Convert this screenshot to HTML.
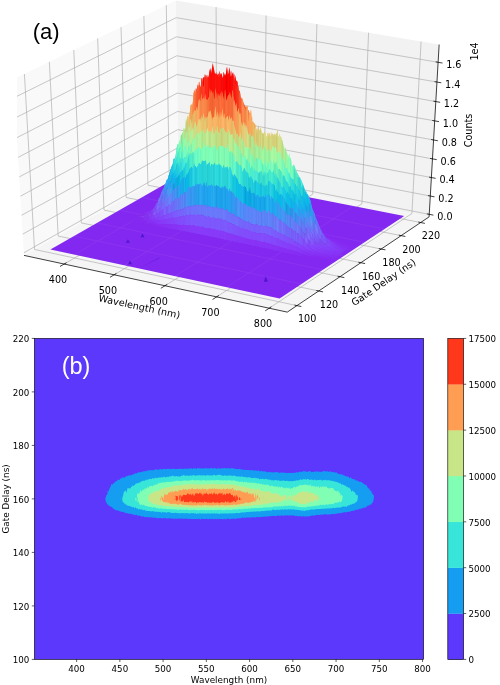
<!DOCTYPE html>
<html><head><meta charset="utf-8"><title>figure</title><style>html,body{margin:0;padding:0;background:#fff}svg{display:block}</style></head><body>
<svg width="500" height="685" viewBox="0 0 500 685" font-family='"DejaVu Sans","Liberation Sans",sans-serif'>
<rect width="500" height="685" fill="#fff"/>
<clipPath id="ca"><rect x="16.9" y="0" width="490" height="335"/></clipPath>
<g clip-path="url(#ca)">
<polygon points="24,255.4 178.4,167.9 175.9,0.4 13.3,79.4" fill="#f9f9f9"/>
<polygon points="178.4,167.9 429.1,216.9 439.2,44.5 175.9,0.4" fill="#f2f2f2"/>
<polygon points="24,255.4 287.3,312.1 429.1,216.9 178.4,167.9" fill="#f5f5f5"/>
<g stroke="#aaa" stroke-width="0.65" fill="none">
<polyline points="64.18,264.05 216.73,175.39 216.1,7.15"/>
<polyline points="114.13,274.81 264.38,184.7 266.08,15.53"/>
<polyline points="164.93,285.75 312.78,194.16 316.89,24.05"/>
<polyline points="216.61,296.89 361.95,203.76 368.55,32.71"/>
<polyline points="269.18,308.21 411.91,213.53 421.08,41.52"/>
<polyline points="296.95,305.61 34.53,249.45 24.41,73.99"/>
<polyline points="318.71,290.99 58.17,236.05 49.37,61.87"/>
<polyline points="340,276.7 81.32,222.93 73.79,50.01"/>
<polyline points="360.83,262.72 103.98,210.09 97.67,38.41"/>
<polyline points="381.21,249.03 126.17,197.51 121.03,27.07"/>
<polyline points="401.15,235.64 147.91,185.18 143.9,15.97"/>
<polyline points="420.68,222.53 169.21,173.11 166.27,5.1"/>
<polyline points="23.87,252.79 178.36,165.41 429.24,214.33"/>
<polyline points="22.73,234.14 178.09,147.61 430.31,196.04"/>
<polyline points="21.58,215.28 177.83,129.62 431.39,177.55"/>
<polyline points="20.42,196.2 177.56,111.44 432.48,158.86"/>
<polyline points="19.25,176.92 177.29,93.07 433.58,139.97"/>
<polyline points="18.06,157.41 177.01,74.51 434.7,120.88"/>
<polyline points="16.86,137.68 176.73,55.76 435.82,101.57"/>
<polyline points="15.64,117.73 176.45,36.81 436.96,82.05"/>
<polyline points="14.41,97.55 176.17,17.65 438.11,62.31"/>
</g>
<g stroke="#000" stroke-width="0.75" fill="none">
<polyline points="24.03,255.4 287.27,312.11 429.09,216.88 439.15,44.55"/>
<polyline points="66.54,262.68 59.97,266.49"/>
<polyline points="116.45,273.42 109.98,277.3"/>
<polyline points="167.22,284.34 160.85,288.28"/>
<polyline points="218.86,295.44 212.59,299.46"/>
<polyline points="271.39,306.74 265.23,310.83"/>
<polyline points="294.48,305.08 301.33,306.55"/>
<polyline points="316.27,290.48 323.07,291.91"/>
<polyline points="337.57,276.19 344.33,277.6"/>
<polyline points="358.42,262.22 365.12,263.59"/>
<polyline points="378.81,248.55 385.46,249.89"/>
<polyline points="398.78,235.17 405.38,236.48"/>
<polyline points="418.32,222.07 424.87,223.36"/>
<polyline points="426.89,213.87 433.42,215.14"/>
<polyline points="427.94,195.58 434.51,196.84"/>
<polyline points="429.01,177.1 435.62,178.35"/>
<polyline points="430.09,158.42 436.73,159.65"/>
<polyline points="431.18,139.53 437.86,140.76"/>
<polyline points="432.28,120.44 439,121.65"/>
<polyline points="433.39,101.14 440.15,102.33"/>
<polyline points="434.52,81.63 441.31,82.81"/>
<polyline points="435.66,61.89 442.49,63.06"/>
</g>
<g text-anchor="middle" fill="#000">
<text x="58" y="282.8" font-size="9.65">400</text>
<text x="107.9" y="293.5" font-size="9.65">500</text>
<text x="158.7" y="304.5" font-size="9.65">600</text>
<text x="210.4" y="315.6" font-size="9.65">700</text>
<text x="263" y="326.9" font-size="9.65">800</text>
<text x="307.2" y="322.4" font-size="9.65">100</text>
<text x="329" y="307.8" font-size="9.65">120</text>
<text x="350.3" y="293.5" font-size="9.65">140</text>
<text x="371.1" y="279.5" font-size="9.65">160</text>
<text x="391.5" y="265.9" font-size="9.65">180</text>
<text x="411.5" y="252.5" font-size="9.65">200</text>
<text x="431" y="239.4" font-size="9.65">220</text>
<text x="444.9" y="220" font-size="9.65">0.0</text>
<text x="446" y="201.8" font-size="9.65">0.2</text>
<text x="447.1" y="183.3" font-size="9.65">0.4</text>
<text x="448.2" y="164.6" font-size="9.65">0.6</text>
<text x="449.3" y="145.7" font-size="9.65">0.8</text>
<text x="450.4" y="126.6" font-size="9.65">1.0</text>
<text x="451.5" y="107.3" font-size="9.65">1.2</text>
<text x="452.7" y="87.8" font-size="9.65">1.4</text>
<text x="453.8" y="68" font-size="9.65">1.6</text>
<text transform="translate(139.5 306.4) rotate(12.2)" y="3.5" font-size="9.65">Wavelength (nm)</text>
<text transform="translate(383.4 282.2) rotate(-34.3)" y="3.5" font-size="9.65">Gate Delay (ns)</text>
<text transform="translate(468.3 130.5) rotate(-90)" y="3.5" font-size="9.65">Counts</text>
<text transform="translate(474.3 51.5) rotate(-90)" y="3.5" font-size="9.65">1e4</text>
</g>
<polygon points="50.4,249.5 279.6,298.5 404.2,216 184.6,172.9" fill="#8328f0"/>
<g stroke="#fff" stroke-width="0.7" opacity="0.07" fill="none">
<polyline points="74.41,254.66 207.64,177.44"/>
<polyline points="124.26,265.3 255.47,186.82"/>
<polyline points="174.95,276.12 304.06,196.34"/>
<polyline points="226.51,287.13 353.44,206.02"/>
<polyline points="73.94,236.08 301.52,283.95"/>
<polyline points="97,222.92 322.96,269.76"/>
<polyline points="119.58,210.03 343.94,255.88"/>
<polyline points="141.69,197.4 364.46,242.29"/>
<polyline points="163.35,185.04 384.55,228.99"/>
</g>
<g fill="#5216cc">
<path d="M127.9 239.2l-2 3.6l4 0z"/>
<path d="M142.5 233.6l-2 3.6l4 0z"/>
<path d="M130 260.6l-2 3.6l4 0z"/>
<path d="M265.8 276.3l-2.1 5.4l4.2 0z"/>
<path d="M140.6 267.4l18.6-10 .2 .9z" opacity="0.6"/>
</g>
<defs><linearGradient id="s31" gradientUnits="userSpaceOnUse" x1="1618" x2="3599" y1="0" y2="0"><stop offset="0" stop-color="#8328f0"/><stop offset=".064" stop-color="#8328f0"/><stop offset=".128" stop-color="#8529f2"/><stop offset=".196" stop-color="#862cf3"/><stop offset=".261" stop-color="#8630f5"/><stop offset=".326" stop-color="#8730f5"/><stop offset=".392" stop-color="#8633f6"/><stop offset=".457" stop-color="#8730f5"/><stop offset=".527" stop-color="#8630f5"/><stop offset=".593" stop-color="#872df4"/><stop offset=".66" stop-color="#8630f4"/><stop offset=".726" stop-color="#862df3"/><stop offset=".793" stop-color="#852cf3"/><stop offset=".865" stop-color="#8428f1"/><stop offset=".932" stop-color="#8428f0"/><stop offset="1" stop-color="#8328f0"/></linearGradient><linearGradient id="s30" gradientUnits="userSpaceOnUse" x1="1607" x2="3589" y1="0" y2="0"><stop offset="0" stop-color="#8328f0"/><stop offset=".064" stop-color="#8428f0"/><stop offset=".128" stop-color="#8629f2"/><stop offset=".196" stop-color="#8630f5"/><stop offset=".261" stop-color="#8733f6"/><stop offset=".326" stop-color="#8736f7"/><stop offset=".392" stop-color="#8736f7"/><stop offset=".457" stop-color="#8636f7"/><stop offset=".527" stop-color="#8733f6"/><stop offset=".593" stop-color="#8633f6"/><stop offset=".66" stop-color="#8633f6"/><stop offset=".726" stop-color="#8630f5"/><stop offset=".793" stop-color="#862cf3"/><stop offset=".865" stop-color="#8529f1"/><stop offset=".932" stop-color="#8328f0"/><stop offset="1" stop-color="#8328f0"/></linearGradient><linearGradient id="s29" gradientUnits="userSpaceOnUse" x1="1596" x2="3579" y1="0" y2="0"><stop offset="0" stop-color="#8328f0"/><stop offset=".064" stop-color="#8429f1"/><stop offset=".128" stop-color="#862cf3"/><stop offset=".196" stop-color="#8733f6"/><stop offset=".261" stop-color="#873af9"/><stop offset=".326" stop-color="#873df9"/><stop offset=".392" stop-color="#873dfa"/><stop offset=".457" stop-color="#873df9"/><stop offset=".527" stop-color="#8639f8"/><stop offset=".593" stop-color="#8736f7"/><stop offset=".66" stop-color="#8736f7"/><stop offset=".726" stop-color="#8733f6"/><stop offset=".793" stop-color="#8730f5"/><stop offset=".865" stop-color="#8629f2"/><stop offset=".932" stop-color="#8428f1"/><stop offset="1" stop-color="#8328f0"/></linearGradient><linearGradient id="s28" gradientUnits="userSpaceOnUse" x1="1585" x2="3568" y1="0" y2="0"><stop offset="0" stop-color="#8328f0"/><stop offset=".064" stop-color="#8529f1"/><stop offset=".128" stop-color="#8630f5"/><stop offset=".196" stop-color="#8639f8"/><stop offset=".261" stop-color="#8640fa"/><stop offset=".326" stop-color="#8445fb"/><stop offset=".392" stop-color="#8445fb"/><stop offset=".457" stop-color="#8545fb"/><stop offset=".527" stop-color="#8640fa"/><stop offset=".593" stop-color="#863df9"/><stop offset=".66" stop-color="#873df9"/><stop offset=".727" stop-color="#8639f8"/><stop offset=".794" stop-color="#8834f7"/><stop offset=".865" stop-color="#862cf3"/><stop offset=".932" stop-color="#8429f1"/><stop offset="1" stop-color="#8428f0"/></linearGradient><linearGradient id="s27" gradientUnits="userSpaceOnUse" x1="1574" x2="3558" y1="0" y2="0"><stop offset="0" stop-color="#8328f0"/><stop offset=".064" stop-color="#8629f2"/><stop offset=".128" stop-color="#8733f6"/><stop offset=".196" stop-color="#8640fa"/><stop offset=".261" stop-color="#824bfc"/><stop offset=".326" stop-color="#8050fc"/><stop offset=".392" stop-color="#8050fd"/><stop offset=".457" stop-color="#8050fd"/><stop offset=".527" stop-color="#8448fc"/><stop offset=".593" stop-color="#8445fb"/><stop offset=".66" stop-color="#8445fb"/><stop offset=".727" stop-color="#8640fa"/><stop offset=".794" stop-color="#873af9"/><stop offset=".865" stop-color="#8630f4"/><stop offset=".932" stop-color="#8529f1"/><stop offset="1" stop-color="#8428f1"/></linearGradient><linearGradient id="s26" gradientUnits="userSpaceOnUse" x1="1563" x2="3548" y1="0" y2="0"><stop offset="0" stop-color="#8428f0"/><stop offset=".064" stop-color="#862cf3"/><stop offset=".128" stop-color="#8639f8"/><stop offset=".196" stop-color="#8448fc"/><stop offset=".261" stop-color="#7e56fd"/><stop offset=".326" stop-color="#7860fd"/><stop offset=".392" stop-color="#7860fd"/><stop offset=".457" stop-color="#7860fd"/><stop offset=".527" stop-color="#7e56fd"/><stop offset=".594" stop-color="#8050fd"/><stop offset=".66" stop-color="#8050fc"/><stop offset=".727" stop-color="#8448fc"/><stop offset=".794" stop-color="#8640fa"/><stop offset=".865" stop-color="#8733f6"/><stop offset=".932" stop-color="#8629f2"/><stop offset="1" stop-color="#8428f1"/></linearGradient><linearGradient id="s25" gradientUnits="userSpaceOnUse" x1="1552" x2="3538" y1="0" y2="0"><stop offset="0" stop-color="#8428f0"/><stop offset=".064" stop-color="#862df4"/><stop offset=".128" stop-color="#863ffa"/><stop offset=".196" stop-color="#7f53fd"/><stop offset=".261" stop-color="#7565fd"/><stop offset=".326" stop-color="#6d71fc"/><stop offset=".392" stop-color="#6c74fc"/><stop offset=".458" stop-color="#6c74fc"/><stop offset=".527" stop-color="#7565fd"/><stop offset=".594" stop-color="#795dfd"/><stop offset=".661" stop-color="#795dfd"/><stop offset=".727" stop-color="#7f53fd"/><stop offset=".794" stop-color="#8448fc"/><stop offset=".865" stop-color="#8736f8"/><stop offset=".932" stop-color="#862cf3"/><stop offset="1" stop-color="#8428f1"/></linearGradient><linearGradient id="s24" gradientUnits="userSpaceOnUse" x1="1541" x2="3527" y1="0" y2="0"><stop offset="0" stop-color="#8328f0"/><stop offset=".064" stop-color="#8630f5"/><stop offset=".128" stop-color="#8545fb"/><stop offset=".196" stop-color="#7860fd"/><stop offset=".26" stop-color="#6979fc"/><stop offset=".326" stop-color="#5486f9"/><stop offset=".392" stop-color="#5188f9"/><stop offset=".458" stop-color="#5288f9"/><stop offset=".528" stop-color="#6a76fc"/><stop offset=".594" stop-color="#706cfc"/><stop offset=".661" stop-color="#6f6ffc"/><stop offset=".728" stop-color="#7662fd"/><stop offset=".795" stop-color="#7f53fd"/><stop offset=".865" stop-color="#863cf9"/><stop offset=".932" stop-color="#852ff4"/><stop offset="1" stop-color="#8529f1"/></linearGradient><linearGradient id="s23" gradientUnits="userSpaceOnUse" x1="1530" x2="3517" y1="0" y2="0"><stop offset="0" stop-color="#8328f0"/><stop offset=".064" stop-color="#8733f6"/><stop offset=".127" stop-color="#814efc"/><stop offset=".195" stop-color="#6d71fc"/><stop offset=".26" stop-color="#478ff8"/><stop offset=".325" stop-color="#28a0f3"/><stop offset=".391" stop-color="#23a4f2"/><stop offset=".458" stop-color="#28a0f3"/><stop offset=".528" stop-color="#4a8df8"/><stop offset=".594" stop-color="#5f80fb"/><stop offset=".661" stop-color="#5d81fa"/><stop offset=".728" stop-color="#6d71fc"/><stop offset=".795" stop-color="#7860fd"/><stop offset=".865" stop-color="#8542fb"/><stop offset=".932" stop-color="#8730f5"/><stop offset="1" stop-color="#8629f2"/></linearGradient><linearGradient id="s22" gradientUnits="userSpaceOnUse" x1="1519" x2="3507" y1="0" y2="0"><stop offset="0" stop-color="#8428f0"/><stop offset=".064" stop-color="#8736f7"/><stop offset=".127" stop-color="#7c58fd"/><stop offset=".195" stop-color="#5d82fa"/><stop offset=".26" stop-color="#19a9f0"/><stop offset=".325" stop-color="#04b9ea"/><stop offset=".391" stop-color="#08bee9"/><stop offset=".458" stop-color="#06bbea"/><stop offset=".528" stop-color="#1fa5f1"/><stop offset=".595" stop-color="#3d93f6"/><stop offset=".662" stop-color="#3a95f6"/><stop offset=".729" stop-color="#5c81fa"/><stop offset=".795" stop-color="#706cfc"/><stop offset=".865" stop-color="#8448fc"/><stop offset=".932" stop-color="#8633f6"/><stop offset="1" stop-color="#852cf3"/></linearGradient><linearGradient id="s21" gradientUnits="userSpaceOnUse" x1="1508" x2="3497" y1="0" y2="0"><stop offset="0" stop-color="#8429f1"/><stop offset=".064" stop-color="#8639f8"/><stop offset=".127" stop-color="#7662fd"/><stop offset=".194" stop-color="#3a95f6"/><stop offset=".259" stop-color="#0cc2e8"/><stop offset=".325" stop-color="#24d8df"/><stop offset=".391" stop-color="#28dbde"/><stop offset=".458" stop-color="#28dbde"/><stop offset=".529" stop-color="#08bee9"/><stop offset=".595" stop-color="#13adef"/><stop offset=".663" stop-color="#0db0ee"/><stop offset=".729" stop-color="#3897f5"/><stop offset=".796" stop-color="#677bfb"/><stop offset=".866" stop-color="#8050fc"/><stop offset=".932" stop-color="#8636f7"/><stop offset="1" stop-color="#852cf3"/></linearGradient><linearGradient id="s20" gradientUnits="userSpaceOnUse" x1="1497" x2="3486" y1="0" y2="0"><stop offset="0" stop-color="#8529f1"/><stop offset=".063" stop-color="#873df9"/><stop offset=".126" stop-color="#6f6ffc"/><stop offset=".194" stop-color="#0faeee"/><stop offset=".259" stop-color="#2ee0db"/><stop offset=".325" stop-color="#64fbc3"/><stop offset=".391" stop-color="#74feba"/><stop offset=".458" stop-color="#72febb"/><stop offset=".529" stop-color="#2adddd"/><stop offset=".596" stop-color="#12c8e6"/><stop offset=".663" stop-color="#14cae5"/><stop offset=".73" stop-color="#0faeee"/><stop offset=".797" stop-color="#498df8"/><stop offset=".866" stop-color="#7c58fd"/><stop offset=".933" stop-color="#8639f8"/><stop offset="1" stop-color="#862df4"/></linearGradient><linearGradient id="s19" gradientUnits="userSpaceOnUse" x1="1486" x2="3476" y1="0" y2="0"><stop offset="0" stop-color="#8529f1"/><stop offset=".063" stop-color="#8542fb"/><stop offset=".126" stop-color="#657dfb"/><stop offset=".193" stop-color="#0ec4e7"/><stop offset=".258" stop-color="#6cfdbf"/><stop offset=".324" stop-color="#a8f79c"/><stop offset=".391" stop-color="#beec8e"/><stop offset=".458" stop-color="#b8ef92"/><stop offset=".529" stop-color="#66fcc2"/><stop offset=".596" stop-color="#36e6d8"/><stop offset=".664" stop-color="#34e4d9"/><stop offset=".731" stop-color="#10c6e6"/><stop offset=".797" stop-color="#26a2f2"/><stop offset=".866" stop-color="#7860fd"/><stop offset=".933" stop-color="#863df9"/><stop offset="1" stop-color="#862ff4"/></linearGradient><linearGradient id="s18" gradientUnits="userSpaceOnUse" x1="1475" x2="3466" y1="0" y2="0"><stop offset="0" stop-color="#8529f2"/><stop offset=".063" stop-color="#8445fb"/><stop offset=".126" stop-color="#5586f9"/><stop offset=".193" stop-color="#22d6e0"/><stop offset=".257" stop-color="#a2f9a0"/><stop offset=".323" stop-color="#e4cf74"/><stop offset=".391" stop-color="#eec66d"/><stop offset=".458" stop-color="#eaca70"/><stop offset=".529" stop-color="#98fca6"/><stop offset=".597" stop-color="#64fbc3"/><stop offset=".664" stop-color="#62fbc4"/><stop offset=".731" stop-color="#26dade"/><stop offset=".798" stop-color="#0cb0ee"/><stop offset=".867" stop-color="#726afd"/><stop offset=".933" stop-color="#8640fa"/><stop offset="1" stop-color="#8630f5"/></linearGradient><linearGradient id="s17" gradientUnits="userSpaceOnUse" x1="1464" x2="3456" y1="0" y2="0"><stop offset="0" stop-color="#8629f2"/><stop offset=".063" stop-color="#8348fc"/><stop offset=".126" stop-color="#4390f7"/><stop offset=".192" stop-color="#3eebd5"/><stop offset=".257" stop-color="#d4dd7f"/><stop offset=".323" stop-color="#ff9d53"/><stop offset=".39" stop-color="#ff914c"/><stop offset=".458" stop-color="#ff934d"/><stop offset=".53" stop-color="#c6e789"/><stop offset=".597" stop-color="#8afeae"/><stop offset=".665" stop-color="#92fda9"/><stop offset=".732" stop-color="#44eed2"/><stop offset=".798" stop-color="#08bee9"/><stop offset=".867" stop-color="#6f6ffc"/><stop offset=".933" stop-color="#8542fb"/><stop offset="1" stop-color="#8730f5"/></linearGradient><linearGradient id="s16" gradientUnits="userSpaceOnUse" x1="1453" x2="3446" y1="0" y2="0"><stop offset="0" stop-color="#842cf2"/><stop offset=".063" stop-color="#834bfc"/><stop offset=".125" stop-color="#329bf4"/><stop offset=".192" stop-color="#60fac5"/><stop offset=".256" stop-color="#f8bb66"/><stop offset=".322" stop-color="#ff6232"/><stop offset=".39" stop-color="#ff5029"/><stop offset=".458" stop-color="#ff562c"/><stop offset=".53" stop-color="#eec66d"/><stop offset=".597" stop-color="#b0f397"/><stop offset=".665" stop-color="#baee91"/><stop offset=".732" stop-color="#62fbc4"/><stop offset=".799" stop-color="#16cbe4"/><stop offset=".867" stop-color="#6a76fc"/><stop offset=".933" stop-color="#8445fb"/><stop offset="1" stop-color="#8733f6"/></linearGradient><linearGradient id="s15" gradientUnits="userSpaceOnUse" x1="1442" x2="3435" y1="0" y2="0"><stop offset="0" stop-color="#852cf2"/><stop offset=".063" stop-color="#8050fc"/><stop offset=".125" stop-color="#1ca7f1"/><stop offset=".191" stop-color="#80ffb4"/><stop offset=".255" stop-color="#ff8e4a"/><stop offset=".322" stop-color="#ff160b"/><stop offset=".39" stop-color="#ff0d06"/><stop offset=".458" stop-color="#ff0905"/><stop offset=".53" stop-color="#ff9b52"/><stop offset=".597" stop-color="#d6db7e"/><stop offset=".666" stop-color="#dcd67a"/><stop offset=".733" stop-color="#84ffb2"/><stop offset=".799" stop-color="#24d8df"/><stop offset=".867" stop-color="#6080fb"/><stop offset=".933" stop-color="#8348fc"/><stop offset="1" stop-color="#8733f7"/></linearGradient><linearGradient id="s14" gradientUnits="userSpaceOnUse" x1="1431" x2="3425" y1="0" y2="0"><stop offset="0" stop-color="#852cf2"/><stop offset=".019" stop-color="#8630f5"/><stop offset=".041" stop-color="#863cf9"/><stop offset=".059" stop-color="#814efc"/><stop offset=".081" stop-color="#726afd"/><stop offset=".099" stop-color="#5486f9"/><stop offset=".121" stop-color="#1aa9f0"/><stop offset=".139" stop-color="#0ec4e7"/><stop offset=".161" stop-color="#3cead5"/><stop offset=".179" stop-color="#7affb7"/><stop offset=".202" stop-color="#b6f193"/><stop offset=".221" stop-color="#e4cf74"/><stop offset=".243" stop-color="#ff9b52"/><stop offset=".262" stop-color="#ff5029"/><stop offset=".286" stop-color="#ff2613"/><stop offset=".305" stop-color="#ff0000"/><stop offset=".329" stop-color="#ff0000"/><stop offset=".349" stop-color="#ff0000"/><stop offset=".373" stop-color="#ff0000"/><stop offset=".393" stop-color="#ff0000"/><stop offset=".417" stop-color="#ff0000"/><stop offset=".438" stop-color="#ff0000"/><stop offset=".462" stop-color="#ff0000"/><stop offset=".482" stop-color="#ff1c0e"/><stop offset=".506" stop-color="#ff5c2f"/><stop offset=".526" stop-color="#ff793e"/><stop offset=".55" stop-color="#ff9d53"/><stop offset=".57" stop-color="#f6be68"/><stop offset=".594" stop-color="#eec66d"/><stop offset=".614" stop-color="#ecc86f"/><stop offset=".638" stop-color="#ecc86f"/><stop offset=".658" stop-color="#ecc86f"/><stop offset=".682" stop-color="#eec66d"/><stop offset=".702" stop-color="#d6db7e"/><stop offset=".725" stop-color="#aaf69b"/><stop offset=".745" stop-color="#8cfead"/><stop offset=".768" stop-color="#64fbc3"/><stop offset=".788" stop-color="#46efd1"/><stop offset=".811" stop-color="#20d5e1"/><stop offset=".83" stop-color="#0cc2e8"/><stop offset=".853" stop-color="#2c9ef3"/><stop offset=".871" stop-color="#647dfb"/><stop offset=".894" stop-color="#7860fd"/><stop offset=".913" stop-color="#7f53fd"/><stop offset=".937" stop-color="#8348fc"/><stop offset=".957" stop-color="#8542fb"/><stop offset=".98" stop-color="#873af9"/><stop offset="1" stop-color="#8636f7"/></linearGradient><linearGradient id="s13" gradientUnits="userSpaceOnUse" x1="1420" x2="3415" y1="0" y2="0"><stop offset="0" stop-color="#852cf2"/><stop offset=".019" stop-color="#8630f5"/><stop offset=".041" stop-color="#873af9"/><stop offset=".059" stop-color="#824bfc"/><stop offset=".081" stop-color="#7367fd"/><stop offset=".099" stop-color="#5d81fa"/><stop offset=".121" stop-color="#26a2f2"/><stop offset=".139" stop-color="#06bbea"/><stop offset=".161" stop-color="#2ee0db"/><stop offset=".179" stop-color="#6cfdbf"/><stop offset=".202" stop-color="#a4f89f"/><stop offset=".221" stop-color="#d0e082"/><stop offset=".243" stop-color="#ffb360"/><stop offset=".262" stop-color="#ff793e"/><stop offset=".286" stop-color="#ff4d27"/><stop offset=".306" stop-color="#ff2f18"/><stop offset=".329" stop-color="#ff1c0e"/><stop offset=".349" stop-color="#ff0603"/><stop offset=".373" stop-color="#ff0d06"/><stop offset=".393" stop-color="#ff0905"/><stop offset=".417" stop-color="#ff0000"/><stop offset=".437" stop-color="#ff0000"/><stop offset=".462" stop-color="#ff0d06"/><stop offset=".482" stop-color="#ff4121"/><stop offset=".506" stop-color="#ff7e41"/><stop offset=".526" stop-color="#ff9850"/><stop offset=".549" stop-color="#ffb360"/><stop offset=".569" stop-color="#e4cf74"/><stop offset=".593" stop-color="#dad87b"/><stop offset=".613" stop-color="#d8da7d"/><stop offset=".637" stop-color="#d2de81"/><stop offset=".658" stop-color="#dcd67a"/><stop offset=".682" stop-color="#dad87b"/><stop offset=".701" stop-color="#c4e88a"/><stop offset=".725" stop-color="#96fca7"/><stop offset=".744" stop-color="#78ffb8"/><stop offset=".768" stop-color="#52f5cb"/><stop offset=".787" stop-color="#34e4d9"/><stop offset=".811" stop-color="#1acfe3"/><stop offset=".83" stop-color="#04b7eb"/><stop offset=".852" stop-color="#3797f5"/><stop offset=".871" stop-color="#6979fc"/><stop offset=".894" stop-color="#795dfd"/><stop offset=".913" stop-color="#8050fd"/><stop offset=".937" stop-color="#8545fb"/><stop offset=".956" stop-color="#8640fa"/><stop offset=".98" stop-color="#873af8"/><stop offset="1" stop-color="#8733f7"/></linearGradient><linearGradient id="s12" gradientUnits="userSpaceOnUse" x1="1408" x2="3404" y1="0" y2="0"><stop offset="0" stop-color="#8629f2"/><stop offset=".019" stop-color="#872df4"/><stop offset=".041" stop-color="#8837f8"/><stop offset=".059" stop-color="#8545fb"/><stop offset=".081" stop-color="#7860fd"/><stop offset=".099" stop-color="#6a76fc"/><stop offset=".121" stop-color="#4092f7"/><stop offset=".14" stop-color="#15abf0"/><stop offset=".162" stop-color="#18cde4"/><stop offset=".18" stop-color="#3ae8d6"/><stop offset=".203" stop-color="#70febc"/><stop offset=".221" stop-color="#96fca7"/><stop offset=".244" stop-color="#cce385"/><stop offset=".263" stop-color="#f2c26b"/><stop offset=".286" stop-color="#ffa256"/><stop offset=".306" stop-color="#ff8646"/><stop offset=".33" stop-color="#ff8646"/><stop offset=".349" stop-color="#ff6533"/><stop offset=".373" stop-color="#ff6d38"/><stop offset=".393" stop-color="#ff6b37"/><stop offset=".417" stop-color="#ff6835"/><stop offset=".437" stop-color="#ff6b37"/><stop offset=".461" stop-color="#ff703a"/><stop offset=".481" stop-color="#ffa256"/><stop offset=".505" stop-color="#f2c26b"/><stop offset=".525" stop-color="#ded579"/><stop offset=".549" stop-color="#cae486"/><stop offset=".568" stop-color="#acf59a"/><stop offset=".592" stop-color="#a4f89f"/><stop offset=".612" stop-color="#a0faa1"/><stop offset=".636" stop-color="#98fca6"/><stop offset=".657" stop-color="#a6f89d"/><stop offset=".681" stop-color="#a0faa1"/><stop offset=".7" stop-color="#8afeae"/><stop offset=".724" stop-color="#64fbc3"/><stop offset=".743" stop-color="#44eed2"/><stop offset=".767" stop-color="#28dbde"/><stop offset=".786" stop-color="#1cd1e2"/><stop offset=".81" stop-color="#06bbea"/><stop offset=".829" stop-color="#16abf0"/><stop offset=".852" stop-color="#4d8cf8"/><stop offset=".871" stop-color="#6f6ffc"/><stop offset=".894" stop-color="#7e56fd"/><stop offset=".913" stop-color="#834bfc"/><stop offset=".937" stop-color="#8543fb"/><stop offset=".956" stop-color="#873dfa"/><stop offset=".98" stop-color="#8736f8"/><stop offset="1" stop-color="#8633f6"/></linearGradient><linearGradient id="s11" gradientUnits="userSpaceOnUse" x1="1397" x2="3394" y1="0" y2="0"><stop offset="0" stop-color="#8529f2"/><stop offset=".019" stop-color="#862df4"/><stop offset=".041" stop-color="#8736f7"/><stop offset=".059" stop-color="#8543fb"/><stop offset=".081" stop-color="#7c58fd"/><stop offset=".1" stop-color="#6f6ffc"/><stop offset=".122" stop-color="#5784fa"/><stop offset=".14" stop-color="#2f9df4"/><stop offset=".162" stop-color="#05b9ea"/><stop offset=".181" stop-color="#1acfe3"/><stop offset=".203" stop-color="#40ecd4"/><stop offset=".222" stop-color="#66fcc2"/><stop offset=".245" stop-color="#94fda8"/><stop offset=".264" stop-color="#beec8e"/><stop offset=".287" stop-color="#dcd67a"/><stop offset=".306" stop-color="#eaca70"/><stop offset=".33" stop-color="#eec66d"/><stop offset=".35" stop-color="#fab965"/><stop offset=".374" stop-color="#fcb763"/><stop offset=".393" stop-color="#feb562"/><stop offset=".417" stop-color="#ffae5e"/><stop offset=".437" stop-color="#fcb763"/><stop offset=".461" stop-color="#f8bb66"/><stop offset=".481" stop-color="#d8da7d"/><stop offset=".505" stop-color="#c2ea8c"/><stop offset=".525" stop-color="#a6f89d"/><stop offset=".548" stop-color="#90feab"/><stop offset=".568" stop-color="#74feba"/><stop offset=".592" stop-color="#70febc"/><stop offset=".612" stop-color="#6afdc0"/><stop offset=".636" stop-color="#66fcc2"/><stop offset=".656" stop-color="#76ffb9"/><stop offset=".68" stop-color="#70febc"/><stop offset=".699" stop-color="#56f7ca"/><stop offset=".723" stop-color="#36e6d8"/><stop offset=".743" stop-color="#22d6e0"/><stop offset=".766" stop-color="#12c8e6"/><stop offset=".786" stop-color="#08bee9"/><stop offset=".809" stop-color="#15abf0"/><stop offset=".828" stop-color="#2f9df4"/><stop offset=".851" stop-color="#5f80fb"/><stop offset=".87" stop-color="#7367fd"/><stop offset=".893" stop-color="#8050fd"/><stop offset=".913" stop-color="#8348fc"/><stop offset=".937" stop-color="#8640fa"/><stop offset=".956" stop-color="#873af9"/><stop offset=".98" stop-color="#8733f7"/><stop offset="1" stop-color="#8730f5"/></linearGradient><linearGradient id="s10" gradientUnits="userSpaceOnUse" x1="1386" x2="3383" y1="0" y2="0"><stop offset="0" stop-color="#8529f2"/><stop offset=".019" stop-color="#852cf3"/><stop offset=".041" stop-color="#8733f6"/><stop offset=".059" stop-color="#8640fa"/><stop offset=".082" stop-color="#7f53fd"/><stop offset=".1" stop-color="#7565fd"/><stop offset=".122" stop-color="#677bfb"/><stop offset=".14" stop-color="#498df8"/><stop offset=".163" stop-color="#19a9f0"/><stop offset=".181" stop-color="#06bbea"/><stop offset=".204" stop-color="#20d5e1"/><stop offset=".223" stop-color="#36e6d8"/><stop offset=".245" stop-color="#62fbc4"/><stop offset=".264" stop-color="#86ffb0"/><stop offset=".287" stop-color="#a4f89f"/><stop offset=".307" stop-color="#b2f396"/><stop offset=".33" stop-color="#beec8e"/><stop offset=".35" stop-color="#c0eb8d"/><stop offset=".374" stop-color="#c2ea8c"/><stop offset=".393" stop-color="#c6e789"/><stop offset=".417" stop-color="#d2de81"/><stop offset=".437" stop-color="#cae486"/><stop offset=".461" stop-color="#c2ea8c"/><stop offset=".481" stop-color="#a8f79c"/><stop offset=".504" stop-color="#8afeae"/><stop offset=".524" stop-color="#74feba"/><stop offset=".548" stop-color="#5efac6"/><stop offset=".568" stop-color="#48f1d0"/><stop offset=".591" stop-color="#3eebd5"/><stop offset=".611" stop-color="#3ae8d6"/><stop offset=".635" stop-color="#38e7d7"/><stop offset=".655" stop-color="#48f1d0"/><stop offset=".679" stop-color="#40ecd4"/><stop offset=".699" stop-color="#28dbde"/><stop offset=".722" stop-color="#1acfe3"/><stop offset=".742" stop-color="#0cc2e8"/><stop offset=".765" stop-color="#05b4ec"/><stop offset=".785" stop-color="#13adef"/><stop offset=".808" stop-color="#2f9cf4"/><stop offset=".828" stop-color="#498df8"/><stop offset=".851" stop-color="#6c74fc"/><stop offset=".87" stop-color="#7860fd"/><stop offset=".893" stop-color="#834bfc"/><stop offset=".913" stop-color="#8643fb"/><stop offset=".937" stop-color="#863df9"/><stop offset=".956" stop-color="#8837f8"/><stop offset=".98" stop-color="#8633f6"/><stop offset="1" stop-color="#8630f5"/></linearGradient><linearGradient id="s9" gradientUnits="userSpaceOnUse" x1="1375" x2="3372" y1="0" y2="0"><stop offset="0" stop-color="#8429f1"/><stop offset=".019" stop-color="#852cf2"/><stop offset=".041" stop-color="#8633f6"/><stop offset=".06" stop-color="#873af9"/><stop offset=".082" stop-color="#814efc"/><stop offset=".1" stop-color="#7b5bfd"/><stop offset=".122" stop-color="#6f6ffc"/><stop offset=".141" stop-color="#627efb"/><stop offset=".163" stop-color="#3b96f6"/><stop offset=".182" stop-color="#19a9f0"/><stop offset=".204" stop-color="#05b9ea"/><stop offset=".223" stop-color="#14cae5"/><stop offset=".246" stop-color="#2adddd"/><stop offset=".265" stop-color="#4af2cf"/><stop offset=".288" stop-color="#60fac5"/><stop offset=".307" stop-color="#6cfdbf"/><stop offset=".331" stop-color="#80ffb4"/><stop offset=".35" stop-color="#7cffb6"/><stop offset=".374" stop-color="#7cffb6"/><stop offset=".394" stop-color="#7effb5"/><stop offset=".417" stop-color="#84ffb2"/><stop offset=".437" stop-color="#80ffb4"/><stop offset=".461" stop-color="#7affb7"/><stop offset=".48" stop-color="#60fac5"/><stop offset=".504" stop-color="#46efd1"/><stop offset=".524" stop-color="#32e3da"/><stop offset=".548" stop-color="#26dade"/><stop offset=".567" stop-color="#20d5e1"/><stop offset=".591" stop-color="#18cde4"/><stop offset=".611" stop-color="#16cbe4"/><stop offset=".634" stop-color="#16cbe4"/><stop offset=".655" stop-color="#1cd1e2"/><stop offset=".678" stop-color="#18cde4"/><stop offset=".698" stop-color="#0cc2e8"/><stop offset=".721" stop-color="#04b8eb"/><stop offset=".741" stop-color="#13adef"/><stop offset=".765" stop-color="#29a0f3"/><stop offset=".784" stop-color="#3897f5"/><stop offset=".808" stop-color="#4f89f9"/><stop offset=".827" stop-color="#657dfb"/><stop offset=".85" stop-color="#7368fd"/><stop offset=".87" stop-color="#7e56fd"/><stop offset=".893" stop-color="#8546fc"/><stop offset=".913" stop-color="#8640fa"/><stop offset=".936" stop-color="#873af8"/><stop offset=".956" stop-color="#8636f7"/><stop offset=".98" stop-color="#8730f5"/><stop offset="1" stop-color="#872df4"/></linearGradient><linearGradient id="s8" gradientUnits="userSpaceOnUse" x1="1364" x2="3362" y1="0" y2="0"><stop offset="0" stop-color="#8428f1"/><stop offset=".019" stop-color="#8529f2"/><stop offset=".041" stop-color="#862ff4"/><stop offset=".06" stop-color="#8736f7"/><stop offset=".082" stop-color="#8445fb"/><stop offset=".101" stop-color="#8050fc"/><stop offset=".123" stop-color="#795dfd"/><stop offset=".141" stop-color="#726afd"/><stop offset=".164" stop-color="#657dfb"/><stop offset=".182" stop-color="#4c8bf8"/><stop offset=".205" stop-color="#3499f5"/><stop offset=".224" stop-color="#19a9f0"/><stop offset=".247" stop-color="#03b6ec"/><stop offset=".266" stop-color="#12c8e6"/><stop offset=".289" stop-color="#1cd1e2"/><stop offset=".308" stop-color="#20d5e1"/><stop offset=".331" stop-color="#28dbde"/><stop offset=".351" stop-color="#28dbde"/><stop offset=".374" stop-color="#26dade"/><stop offset=".394" stop-color="#28dbde"/><stop offset=".417" stop-color="#28dbde"/><stop offset=".437" stop-color="#28dbde"/><stop offset=".461" stop-color="#26dade"/><stop offset=".48" stop-color="#1cd1e2"/><stop offset=".504" stop-color="#0ec4e7"/><stop offset=".524" stop-color="#04b9ea"/><stop offset=".547" stop-color="#06b4ec"/><stop offset=".567" stop-color="#0cb0ee"/><stop offset=".59" stop-color="#13adef"/><stop offset=".61" stop-color="#19a9f0"/><stop offset=".634" stop-color="#16abf0"/><stop offset=".654" stop-color="#13adef"/><stop offset=".677" stop-color="#19a9f0"/><stop offset=".697" stop-color="#22a4f2"/><stop offset=".721" stop-color="#3797f5"/><stop offset=".74" stop-color="#4490f7"/><stop offset=".764" stop-color="#5587f9"/><stop offset=".783" stop-color="#627efb"/><stop offset=".807" stop-color="#6c74fc"/><stop offset=".827" stop-color="#726afd"/><stop offset=".85" stop-color="#7c58fd"/><stop offset=".869" stop-color="#834bfc"/><stop offset=".893" stop-color="#8640fa"/><stop offset=".913" stop-color="#873af9"/><stop offset=".936" stop-color="#8834f7"/><stop offset=".956" stop-color="#8633f6"/><stop offset=".98" stop-color="#852ff4"/><stop offset="1" stop-color="#862cf3"/></linearGradient><linearGradient id="s7" gradientUnits="userSpaceOnUse" x1="1353" x2="3351" y1="0" y2="0"><stop offset="0" stop-color="#8428f0"/><stop offset=".019" stop-color="#8428f1"/><stop offset=".041" stop-color="#852cf3"/><stop offset=".06" stop-color="#8730f5"/><stop offset=".082" stop-color="#863cf9"/><stop offset=".101" stop-color="#8543fb"/><stop offset=".123" stop-color="#814efc"/><stop offset=".142" stop-color="#7e56fd"/><stop offset=".165" stop-color="#7662fd"/><stop offset=".183" stop-color="#706cfc"/><stop offset=".206" stop-color="#6a76fc"/><stop offset=".225" stop-color="#5f80fb"/><stop offset=".248" stop-color="#4f89f9"/><stop offset=".267" stop-color="#3b96f6"/><stop offset=".29" stop-color="#319af4"/><stop offset=".309" stop-color="#26a2f2"/><stop offset=".332" stop-color="#22a3f2"/><stop offset=".352" stop-color="#1fa5f1"/><stop offset=".375" stop-color="#1da7f1"/><stop offset=".394" stop-color="#1da7f1"/><stop offset=".418" stop-color="#1ca7f1"/><stop offset=".437" stop-color="#1ca7f1"/><stop offset=".461" stop-color="#20a6f1"/><stop offset=".48" stop-color="#2b9ef3"/><stop offset=".504" stop-color="#3b96f6"/><stop offset=".523" stop-color="#468ff8"/><stop offset=".547" stop-color="#5288f9"/><stop offset=".566" stop-color="#5784fa"/><stop offset=".59" stop-color="#5a83fa"/><stop offset=".609" stop-color="#5d82fa"/><stop offset=".633" stop-color="#5d82fa"/><stop offset=".653" stop-color="#5a83fa"/><stop offset=".677" stop-color="#5d82fa"/><stop offset=".696" stop-color="#657dfb"/><stop offset=".72" stop-color="#6c74fc"/><stop offset=".739" stop-color="#6f6ffc"/><stop offset=".763" stop-color="#7368fd"/><stop offset=".783" stop-color="#7763fd"/><stop offset=".806" stop-color="#795dfd"/><stop offset=".826" stop-color="#7e56fd"/><stop offset=".849" stop-color="#824bfc"/><stop offset=".869" stop-color="#8640fa"/><stop offset=".893" stop-color="#8837f8"/><stop offset=".912" stop-color="#8733f6"/><stop offset=".936" stop-color="#8730f5"/><stop offset=".956" stop-color="#872df4"/><stop offset=".98" stop-color="#852cf3"/><stop offset="1" stop-color="#8629f2"/></linearGradient><linearGradient id="s6" gradientUnits="userSpaceOnUse" x1="1342" x2="3341" y1="0" y2="0"><stop offset="0" stop-color="#8428f0"/><stop offset=".019" stop-color="#8328f0"/><stop offset=".041" stop-color="#8529f2"/><stop offset=".06" stop-color="#862cf3"/><stop offset=".082" stop-color="#8733f6"/><stop offset=".101" stop-color="#8639f8"/><stop offset=".124" stop-color="#8640fa"/><stop offset=".142" stop-color="#8445fb"/><stop offset=".165" stop-color="#814efc"/><stop offset=".184" stop-color="#7f53fd"/><stop offset=".207" stop-color="#7b5bfd"/><stop offset=".226" stop-color="#7860fd"/><stop offset=".248" stop-color="#7367fd"/><stop offset=".267" stop-color="#706cfc"/><stop offset=".29" stop-color="#6d71fc"/><stop offset=".31" stop-color="#6c74fc"/><stop offset=".333" stop-color="#6979fc"/><stop offset=".352" stop-color="#6979fc"/><stop offset=".375" stop-color="#6979fc"/><stop offset=".395" stop-color="#6979fc"/><stop offset=".418" stop-color="#6979fc"/><stop offset=".437" stop-color="#6979fc"/><stop offset=".461" stop-color="#6a76fc"/><stop offset=".48" stop-color="#6d71fc"/><stop offset=".504" stop-color="#706cfc"/><stop offset=".523" stop-color="#726afd"/><stop offset=".546" stop-color="#7565fd"/><stop offset=".566" stop-color="#7565fd"/><stop offset=".589" stop-color="#7860fd"/><stop offset=".609" stop-color="#7860fd"/><stop offset=".633" stop-color="#7860fd"/><stop offset=".652" stop-color="#7762fd"/><stop offset=".676" stop-color="#7662fd"/><stop offset=".696" stop-color="#795dfd"/><stop offset=".719" stop-color="#7c58fd"/><stop offset=".739" stop-color="#7e56fd"/><stop offset=".762" stop-color="#8050fd"/><stop offset=".782" stop-color="#814efc"/><stop offset=".806" stop-color="#8448fc"/><stop offset=".825" stop-color="#8445fb"/><stop offset=".849" stop-color="#873dfa"/><stop offset=".869" stop-color="#8736f8"/><stop offset=".892" stop-color="#8633f6"/><stop offset=".912" stop-color="#852ff4"/><stop offset=".936" stop-color="#852cf3"/><stop offset=".956" stop-color="#8629f2"/><stop offset=".98" stop-color="#8529f2"/><stop offset="1" stop-color="#8429f1"/></linearGradient><linearGradient id="s5" gradientUnits="userSpaceOnUse" x1="1331" x2="3330" y1="0" y2="0"><stop offset="0" stop-color="#8328f0"/><stop offset=".019" stop-color="#8328f0"/><stop offset=".041" stop-color="#8428f1"/><stop offset=".06" stop-color="#8629f2"/><stop offset=".083" stop-color="#872df4"/><stop offset=".101" stop-color="#8730f5"/><stop offset=".124" stop-color="#8636f7"/><stop offset=".143" stop-color="#8639f8"/><stop offset=".165" stop-color="#873dfa"/><stop offset=".184" stop-color="#8542fb"/><stop offset=".207" stop-color="#8545fb"/><stop offset=".226" stop-color="#824bfc"/><stop offset=".249" stop-color="#814efc"/><stop offset=".268" stop-color="#8050fd"/><stop offset=".291" stop-color="#7d56fd"/><stop offset=".31" stop-color="#7e56fd"/><stop offset=".333" stop-color="#7c58fd"/><stop offset=".352" stop-color="#7c58fd"/><stop offset=".376" stop-color="#7c58fd"/><stop offset=".395" stop-color="#7c58fd"/><stop offset=".418" stop-color="#7c58fd"/><stop offset=".437" stop-color="#7c58fd"/><stop offset=".461" stop-color="#7c58fd"/><stop offset=".48" stop-color="#7e56fd"/><stop offset=".503" stop-color="#7f53fd"/><stop offset=".523" stop-color="#8050fc"/><stop offset=".546" stop-color="#814efc"/><stop offset=".566" stop-color="#834bfc"/><stop offset=".589" stop-color="#824bfc"/><stop offset=".609" stop-color="#824bfc"/><stop offset=".632" stop-color="#824bfc"/><stop offset=".652" stop-color="#834bfc"/><stop offset=".675" stop-color="#824bfc"/><stop offset=".695" stop-color="#8348fc"/><stop offset=".719" stop-color="#8545fb"/><stop offset=".738" stop-color="#8543fb"/><stop offset=".762" stop-color="#8640fa"/><stop offset=".782" stop-color="#873dfa"/><stop offset=".805" stop-color="#863cf9"/><stop offset=".825" stop-color="#873af9"/><stop offset=".849" stop-color="#8733f7"/><stop offset=".869" stop-color="#8630f5"/><stop offset=".892" stop-color="#862cf3"/><stop offset=".912" stop-color="#8629f2"/><stop offset=".936" stop-color="#8529f1"/><stop offset=".956" stop-color="#8429f1"/><stop offset=".98" stop-color="#8429f1"/><stop offset="1" stop-color="#8428f1"/></linearGradient><linearGradient id="s4" gradientUnits="userSpaceOnUse" x1="1319" x2="3320" y1="0" y2="0"><stop offset="0" stop-color="#8328f0"/><stop offset=".019" stop-color="#8328f0"/><stop offset=".041" stop-color="#8428f0"/><stop offset=".06" stop-color="#8428f1"/><stop offset=".083" stop-color="#8529f1"/><stop offset=".102" stop-color="#8629f2"/><stop offset=".124" stop-color="#852cf3"/><stop offset=".143" stop-color="#862cf3"/><stop offset=".166" stop-color="#8630f5"/><stop offset=".185" stop-color="#8730f5"/><stop offset=".207" stop-color="#8633f6"/><stop offset=".227" stop-color="#8733f7"/><stop offset=".249" stop-color="#8736f7"/><stop offset=".268" stop-color="#8737f8"/><stop offset=".291" stop-color="#8639f8"/><stop offset=".311" stop-color="#873af9"/><stop offset=".334" stop-color="#873af8"/><stop offset=".353" stop-color="#873af9"/><stop offset=".376" stop-color="#873af9"/><stop offset=".395" stop-color="#873af9"/><stop offset=".418" stop-color="#873af9"/><stop offset=".438" stop-color="#873af9"/><stop offset=".461" stop-color="#873af8"/><stop offset=".48" stop-color="#8639f8"/><stop offset=".503" stop-color="#8837f8"/><stop offset=".523" stop-color="#8736f7"/><stop offset=".546" stop-color="#8736f7"/><stop offset=".566" stop-color="#8833f7"/><stop offset=".589" stop-color="#8733f7"/><stop offset=".609" stop-color="#8833f7"/><stop offset=".632" stop-color="#8733f7"/><stop offset=".652" stop-color="#8733f7"/><stop offset=".675" stop-color="#8833f7"/><stop offset=".695" stop-color="#8733f6"/><stop offset=".718" stop-color="#8633f6"/><stop offset=".738" stop-color="#8730f5"/><stop offset=".762" stop-color="#8630f5"/><stop offset=".781" stop-color="#8630f4"/><stop offset=".805" stop-color="#872df4"/><stop offset=".825" stop-color="#862df4"/><stop offset=".849" stop-color="#852cf3"/><stop offset=".868" stop-color="#8529f2"/><stop offset=".892" stop-color="#8529f1"/><stop offset=".912" stop-color="#8428f1"/><stop offset=".936" stop-color="#8428f0"/><stop offset=".956" stop-color="#8328f0"/><stop offset=".98" stop-color="#8328f0"/><stop offset="1" stop-color="#8328f0"/></linearGradient><pattern id="sk" patternUnits="userSpaceOnUse" width="1130" height="90"><rect x="0" width="6" height="90" fill="#000" opacity=".07"/><rect x="11" width="11" height="90" fill="#fff" opacity=".03"/><rect x="22" width="11" height="90" fill="#fff" opacity=".1"/><rect x="32" width="8" height="90" fill="#fff" opacity=".04"/><rect x="40" width="6" height="90" fill="#000" opacity=".03"/><rect x="54" width="8" height="90" fill="#fff" opacity=".05"/><rect x="62" width="8" height="90" fill="#fff" opacity=".04"/><rect x="71" width="9" height="90" fill="#000" opacity=".03"/><rect x="97" width="5" height="90" fill="#000" opacity=".02"/><rect x="103" width="6" height="90" fill="#fff" opacity=".03"/><rect x="109" width="10" height="90" fill="#fff" opacity=".04"/><rect x="119" width="6" height="90" fill="#000" opacity=".06"/><rect x="125" width="10" height="90" fill="#fff" opacity=".05"/><rect x="136" width="5" height="90" fill="#000" opacity=".03"/><rect x="141" width="8" height="90" fill="#fff" opacity=".05"/><rect x="149" width="5" height="90" fill="#000" opacity=".05"/><rect x="154" width="7" height="90" fill="#fff" opacity=".03"/><rect x="167" width="10" height="90" fill="#fff" opacity=".02"/><rect x="177" width="9" height="90" fill="#fff" opacity=".06"/><rect x="195" width="5" height="90" fill="#fff" opacity=".03"/><rect x="206" width="7" height="90" fill="#000" opacity=".07"/><rect x="212" width="10" height="90" fill="#fff" opacity=".05"/><rect x="222" width="7" height="90" fill="#000" opacity=".06"/><rect x="229" width="7" height="90" fill="#fff" opacity=".03"/><rect x="251" width="6" height="90" fill="#000" opacity=".11"/><rect x="257" width="8" height="90" fill="#000" opacity=".04"/><rect x="266" width="10" height="90" fill="#fff" opacity=".04"/><rect x="284" width="8" height="90" fill="#000" opacity=".02"/><rect x="301" width="7" height="90" fill="#000" opacity=".03"/><rect x="308" width="6" height="90" fill="#fff" opacity=".08"/><rect x="314" width="5" height="90" fill="#000" opacity=".12"/><rect x="320" width="6" height="90" fill="#fff" opacity=".08"/><rect x="326" width="9" height="90" fill="#fff" opacity=".05"/><rect x="334" width="6" height="90" fill="#000" opacity=".05"/><rect x="354" width="7" height="90" fill="#000" opacity=".02"/><rect x="361" width="6" height="90" fill="#000" opacity=".08"/><rect x="367" width="11" height="90" fill="#000" opacity=".03"/><rect x="377" width="5" height="90" fill="#000" opacity=".04"/><rect x="383" width="6" height="90" fill="#fff" opacity=".04"/><rect x="389" width="10" height="90" fill="#000" opacity=".06"/><rect x="408" width="10" height="90" fill="#fff" opacity=".11"/><rect x="418" width="7" height="90" fill="#fff" opacity=".06"/><rect x="425" width="9" height="90" fill="#fff" opacity=".04"/><rect x="434" width="9" height="90" fill="#000" opacity=".1"/><rect x="442" width="7" height="90" fill="#000" opacity=".02"/><rect x="449" width="8" height="90" fill="#000" opacity=".03"/><rect x="458" width="7" height="90" fill="#fff" opacity=".08"/><rect x="464" width="7" height="90" fill="#fff" opacity=".04"/><rect x="471" width="6" height="90" fill="#000" opacity=".03"/><rect x="486" width="10" height="90" fill="#000" opacity=".02"/><rect x="495" width="7" height="90" fill="#000" opacity=".02"/><rect x="502" width="9" height="90" fill="#000" opacity=".07"/><rect x="512" width="10" height="90" fill="#000" opacity=".04"/><rect x="527" width="10" height="90" fill="#000" opacity=".06"/><rect x="550" width="7" height="90" fill="#000" opacity=".1"/><rect x="557" width="8" height="90" fill="#000" opacity=".03"/><rect x="565" width="6" height="90" fill="#000" opacity=".05"/><rect x="571" width="8" height="90" fill="#000" opacity=".05"/><rect x="579" width="10" height="90" fill="#fff" opacity=".02"/><rect x="589" width="5" height="90" fill="#000" opacity=".05"/><rect x="595" width="5" height="90" fill="#000" opacity=".06"/><rect x="600" width="6" height="90" fill="#fff" opacity=".05"/><rect x="606" width="9" height="90" fill="#fff" opacity=".02"/><rect x="615" width="7" height="90" fill="#000" opacity=".13"/><rect x="621" width="8" height="90" fill="#000" opacity=".04"/><rect x="629" width="11" height="90" fill="#fff" opacity=".05"/><rect x="659" width="9" height="90" fill="#fff" opacity=".02"/><rect x="668" width="5" height="90" fill="#000" opacity=".05"/><rect x="673" width="10" height="90" fill="#000" opacity=".08"/><rect x="695" width="9" height="90" fill="#fff" opacity=".09"/><rect x="704" width="8" height="90" fill="#000" opacity=".05"/><rect x="712" width="10" height="90" fill="#000" opacity=".02"/><rect x="722" width="6" height="90" fill="#000" opacity=".04"/><rect x="728" width="11" height="90" fill="#000" opacity=".03"/><rect x="739" width="7" height="90" fill="#fff" opacity=".02"/><rect x="746" width="9" height="90" fill="#000" opacity=".07"/><rect x="755" width="8" height="90" fill="#000" opacity=".07"/><rect x="763" width="6" height="90" fill="#fff" opacity=".06"/><rect x="769" width="11" height="90" fill="#fff" opacity=".1"/><rect x="780" width="6" height="90" fill="#fff" opacity=".03"/><rect x="786" width="6" height="90" fill="#fff" opacity=".03"/><rect x="800" width="10" height="90" fill="#000" opacity=".03"/><rect x="811" width="10" height="90" fill="#000" opacity=".08"/><rect x="840" width="8" height="90" fill="#000" opacity=".07"/><rect x="861" width="9" height="90" fill="#000" opacity=".02"/><rect x="882" width="9" height="90" fill="#fff" opacity=".06"/><rect x="890" width="6" height="90" fill="#000" opacity=".09"/><rect x="896" width="10" height="90" fill="#fff" opacity=".16"/><rect x="915" width="7" height="90" fill="#fff" opacity=".05"/><rect x="928" width="9" height="90" fill="#000" opacity=".15"/><rect x="936" width="8" height="90" fill="#000" opacity=".03"/><rect x="944" width="9" height="90" fill="#000" opacity=".05"/><rect x="964" width="5" height="90" fill="#000" opacity=".07"/><rect x="969" width="9" height="90" fill="#000" opacity=".07"/><rect x="978" width="10" height="90" fill="#000" opacity=".04"/><rect x="988" width="5" height="90" fill="#000" opacity=".15"/><rect x="1000" width="10" height="90" fill="#fff" opacity=".02"/><rect x="1017" width="10" height="90" fill="#000" opacity=".09"/><rect x="1027" width="6" height="90" fill="#000" opacity=".06"/><rect x="1045" width="5" height="90" fill="#000" opacity=".08"/><rect x="1073" width="9" height="90" fill="#000" opacity=".03"/><rect x="1082" width="6" height="90" fill="#000" opacity=".1"/><rect x="1089" width="9" height="90" fill="#000" opacity=".02"/><rect x="1105" width="10" height="90" fill="#000" opacity=".03"/><rect x="1125" width="7" height="90" fill="#000" opacity=".13"/></pattern></defs>
<g transform="scale(0.1)">
<path d="M1608 2038l23 5 22 4 22 3 23 6 22 5 23 4 22 4 22 1 23 4 22 2 23 6 22 4 23 0 22 8 23 5 22 0 23 1 22 1 23 5 23 4 22 3 23 6 23 1 22 5 23 3 23 2 23 1 22 10 23 4 23 4 23 4 23 0 23 6 23 6 22 6 23 5 23 3 23 7 23 6 23 2 23 5 23 9 23 4 23 3 23 7 23 11 24-3 23 7 23 6 23 6 23 6 23 5 24-3 23 8 23 9 23 2 24 1 23 9 23 5 24 2 23 10 23 5 24 4 23 6 23 9 24 9 23-2 24 4 23 6 23 12 24 3 24 3 23 7 24 9 23 2 24 10 23 4 24 2 24 5 23 8 24 5 24 5 23 5 24 5 24 4 24 5 10-7-24-6-24-3-23-5-24-5-24-5-23-5-24-5-24-4-23-7-24-2-24-8-23-8-24-1-23-9-24-3-23-4-24-8-23-6-24-2-23-8-23-5-24-9-23-2-24-5-23-11-23 1-23-9-24-1-23-5-23-1-24-9-23-6-23 0-23-6-23-4-24-9-23-1-23-6-23-9-23-4-23-6-23-4-23-6-23-4-23-8-23-8-23 3-23-7-23-4-23-7-23-8-23 5-23-11-23-5-22-4-23-2-23-5-23-5-23-5-22-6-23-5-23-2-23-3-22-4-23 0-22-8-23 1-23-5-22-3-23-3-22-2-23-6-22 0-23-11-22-1-23-4-22-1-23-5-22-5-23-3-22-5-22-4-23-5-22-5-22-4-23-4z" fill="url(#s31)"/>
<path d="M1598 2044l22 5 22 4 23 5 22 3 22 4 23 6 22 0 23 6 22 4 22 2 23 5 22 0 23 2 22 1 23 6 22-3 23 2 23 10 22-3 23 9 23 0 22 1 23 5 23 2 22-1 23 12 23-2 23 4 23 4 22 1 23 7 23 2 23 5 23 9 23 0 23 8 23 4 23 1 23 2 23 10 23 6 23 7 23 4 23 9 23 5 23 3 23 4 23 7 23 7 24 6 23 9 23 0 23 6 23 8 24 5 23 5 23 0 23 11 24 1 23 8 24 5 23 3 23 7 24 6 23 6 24 6 23 6 23 8 24 5 23 6 24 5 23 2 24 14 23 1 24 11 24 4 23 9 24 1 23 9 24 5 24 4 24 5 23 5 24 5 24 5 24 5 10-7-24-5-24-4-24-5-23-5-24-5-24-5-23-8-24-5-24-2-23-4-24-10-23-2-24-9-23-7-24-3-24-3-23-12-23-6-24-4-23 2-24-9-23-9-23-6-24-4-23-5-23-10-24-2-23-5-23-9-24-1-23-2-23-9-23-8-24 3-23-5-23-6-23-6-23-6-23-7-24 3-23-11-23-7-23-3-23-4-23-9-23-5-23-2-23-6-23-7-23-3-23-5-22-6-23-6-23-6-23 0-23-4-23-4-23-4-22-10-23-1-23-2-23-3-22-5-23-1-23-6-22-3-23-4-23-5-22-1-23-1-22 0-23-5-22-8-23 0-22-4-23-6-22-2-23-4-22-1-22-4-23-4-22-5-23-6-22-3-22-4-23-5z" fill="url(#s30)"/>
<path d="M1587 2049l22 6 22 4 23 5 22 2 22 6 23 1 22 4 23-1 22 7 23 3 22-1 22 1 23 4 22-2 23 6 23 7 22-3 23 3 22-2 23 8 23-4 22 4 23-4 23 3 23 9 22-3 23 6 23-3 23 5 23 7 23 2 22 7 23-1 23 9 23 1 23 9 23 6 23 4 23-1 23 9 23 5 23 5 23 11 23 6 23 9 24 7 23 1 23 3 23 6 23 7 23 7 24 12 23 2 23 1 23 8 24 4 23 1 23 11 24 5 23 4 23 7 24 5 23 8 24 6 23 5 23 9 24 8 23 9 24-2 23 7 24 9 23 9 24 6 23 10 24 8 23 8 24 2 24 8 23 7 24 1 23 11 24 1 24 7 24 6 24 5 23 1 11-3-24-5-24-5-24-5-23-5-24-5-24-4-24-5-23-9-24-1-23-9-24-4-24-11-23-1-24-14-23-2-24-5-23-6-24-5-23-8-23-6-24-6-23-6-24-6-23-7-23-3-24-5-23-8-24-1-23-11-23 0-23-5-24-5-23-8-23-6-23 0-23-9-24-6-23-7-23-7-23-4-23-3-23-5-23-9-23-4-23-7-23-6-23-10-23-2-23-1-23-4-23-8-23 0-23-9-23-5-23-2-23-7-22-1-23-4-23-4-23 2-23-12-22 1-23-2-23-5-22-1-23 0-23-9-22 3-23-10-23-2-22 3-23-6-22-1-23-2-22 0-23-5-22-2-22-4-23-6-22 0-23-6-22-4-22-3-23-5-22-4-22-5z" fill="url(#s29)"/>
<path d="M1576 2057l22 5 22 1 23 8 22 2 22 3 23 3 22-2 23 6 22 3 23-1 22-2 23 9 22-6 23 1 22-2 23-1 22 8 23-5 22 2 23 2 23 2 22-3 23 2 23-2 23-1 23 7 22 4 23-3 23 7 23 7 23 0 23 0 23 12 23 6 23 0 23 9 23-1 23 7 23-1 23 10 23 1 23 12 23 11 23 8 23 3 23 11 23 7 24 5 23 12 23 6 23 1 23 6 24 1 23 13 23 1 23 7 24 5 23-3 24 12 23 7 23 8 24 1 23 9 23 9 24 3 23 9 24 7 23 6 24 9 23 8 24 9 23 13 24 2 23 6 23 18 24 8 24 5 23 4 24 11 24 4 23 2 24 8 24 3 24 5 23 7 24 5 10-10-23-1-24-5-24-6-24-7-24-1-23-11-24-1-23-7-24-8-24-2-23-8-24-8-23-10-24-6-23-9-24-9-23-7-24 2-23-9-24-8-23-9-23-5-24-6-23-8-24-5-23-7-23-4-24-5-23-11-23-1-24-4-23-8-23-1-23-2-24-12-23-7-23-7-23-6-23-3-23-1-24-7-23-9-23-6-23-11-23-5-23-5-23-9-23 1-23-4-23-6-23-9-23-1-23-9-23 1-22-7-23-2-23-7-23-5-23 3-23-6-22 3-23-9-23-3-23 4-22-4-23 4-23-8-22 2-23-3-22 3-23-7-23-6-22 2-23-4-22-1-22 1-23-3-22-7-23 1-22-4-23-1-22-6-22-2-23-5-22-4-22-6z" fill="url(#s28)"/>
<path d="M1565 2063l22 3 22 6 23 2 22 5 23-1 22 3 22 3 23-2 22 1 22-7 23 6 23 1 22-8 23 8 22-5 23-4 22-5 23-5 22 10 23 3 23-7 23 3 22-3 23-9 23 9 23 0 22-1 23-2 23 4 23 10 23 4 23 4 23-2 23 5 23 3 23 1 23 13 23 2 23 4 23 3 23 9 23 9 23 21 24 3 23 2 23 10 23 11 23 9 23 7 24 0 23 11 23 6 23 4 24 6 23 7 24-3 23 13 23 5 24 4 23 6 23 12 24 7 23 6 23 11 24 6 23 10 24 12 23-2 24 9 23 9 24 8 23 13 24 10 23 13 24 6 23 15 23 7 24 5 24 8 23 11 24-1 24 10 24 5 23 4 24 7 24-1 10 0-24-5-23-7-24-5-24-3-24-8-23-2-24-4-24-11-23-4-24-5-24-8-23-18-23-6-24-2-23-13-24-9-23-8-24-9-23-6-24-7-23-9-24-3-23-9-23-9-24-1-23-8-23-7-24-12-23 3-24-5-23-7-23-1-23-13-24-1-23-6-23-1-23-6-23-12-24-5-23-7-23-11-23-3-23-8-23-11-23-12-23-1-23-10-23 1-23-7-23 1-23-9-23 0-23-6-23-12-23 0-23 0-23-7-23-7-23 3-22-4-23-7-23 1-23 2-23-2-22 3-23-2-23-2-22-2-23 5-22-8-23 1-22 2-23-1-22 6-23-9-22 2-23 1-22-3-23-6-22 2-23-3-22-3-22-2-23-8-22-1-22-5z" fill="url(#s27)"/>
<path d="M1554 2070l22-2 23 11 22 0 22 8 23-3 22 0 22 3 23-4 22-1 23-5 22-2 22-5 23-3 22-2 23-2 22-5 23-5 23-1 22-4 23 4 23 2 22-21 23 0 23-9 23 2 23 2 23-2 22-1 23 3 23 4 23 5 23-6 23 2 23 8 23 6 23 1 23 22 24-10 23 11 23 9 23 4 23 15 23 6 23 17 24 6 23 14 23 1 23 18 23 8 24 2 23 8 23 9 23-1 24 9 23 3 23 5 24 10 23-6 24 10 23 10 23 12 24 11 23 12 24 5 23 11 23 16 24 3 23 11 24 10 23 11 24 12 23 12 23 12 24 10 23 12 24 14 23 8 24 7 23 14 24 4 24 4 24 8 23 4 24 4 24 8 24 9 10-14-24 1-24-7-23-4-24-5-24-10-24 1-23-11-24-8-24-5-23-7-23-15-24-6-23-13-24-10-23-13-24-8-23-9-24-9-23 2-24-12-23-10-24-6-23-11-23-6-24-7-23-12-23-6-24-4-23-5-23-13-24 3-23-7-24-6-23-4-23-6-23-11-24 0-23-7-23-9-23-11-23-10-23-2-24-3-23-21-23-9-23-9-23-3-23-4-23-2-23-13-23-1-23-3-23-5-23 2-23-4-23-4-23-10-23-4-23 2-22 1-23 0-23-9-23 9-22 3-23-3-23 7-23-3-22-10-23 5-22 5-23 4-22 5-23-8-22 8-23-1-23-6-22 7-22-1-23 2-22-3-22-3-23 1-22-5-23-2-22-6-22-3z" fill="url(#s26)"/>
<path d="M1543 2076l22 5 23 1 22-1 22 6 23 4 22-5 22-2 23-5 22-7 22 3 23-12 22 3 23-13 22-1 23-5 22-11 23-10 22-8 23-4 23 0 22-13 23 4 23-18 23-10 23 0 23-8 22 1 23-6 23 10 23 1 23 0 23 10 23 10 24 7 23-19 23 13 23 17 23-16 23 23 23-1 24 1 23 16 23 25 23 6 23 11 23 15 24 11 23 15 23 15 23-2 24 11 23 2 23 2 24 15 23 2 24 7 23 6 24-12 23 10 23 23 23 19 24-2 23 15 24 21 23 8 23 17 24 4 23 8 24 7 23 14 24 21 23 12 23 16 24 12 23 12 24 13 23 14 24 12 23 8 24 6 24 10 23 7 24 7 24 2 24 7 24 5 10-1-24-9-24-8-24-4-23-4-24-8-24-4-24-4-23-14-24-7-23-8-24-14-23-12-24-10-23-12-23-12-24-12-23-11-24-10-23-11-24-3-23-16-23-11-24-5-23-12-24-11-23-12-23-10-24-10-23 6-24-10-23-5-23-3-24-9-23 1-23-9-23-8-24-2-23-8-23-18-23-1-23-14-24-6-23-17-23-6-23-15-23-4-23-9-23-11-24 10-23-22-23-1-23-6-23-8-23-2-23 6-23-5-23-4-23-3-22 1-23 2-23-2-23-2-23 9-23 0-22 21-23-2-23-4-22 4-23 1-23 5-22 5-23 2-22 2-23 3-22 5-22 2-23 5-22 1-23 4-22-3-22 0-23 3-22-8-22 0-23-11-22 2z" fill="url(#s25)"/>
<path d="M1532 2082l22 5 23-2 22-1 22 6 23 5 22-8 22-6 23-2 22-5 22-11 23-10 22-8 22-11 23-11 22-15 23-6 22-15 23 0 23-19 23 4 22-28 23-12 23 5 22-30 23 23 23-25 23 3 23 7 23-25 23 8 23 1 24 10 23-4 23 17 23-7 23 19 23-6 24 4 23 23 23-10 23 32 23 14 24-12 23 50 23-11 23 13 24 24 23 8 23-4 23 21 24 13 23 2 23 12 24 17 23-7 24 4 23-2 24 2 23 18 23 21 24-1 23 16 24 11 23 12 24 23 23 14 23 17 24 4 23 16 24 15 23 22 23 14 24 14 23 21 23 20 24 18 23 15 24 5 23 13 24 9 24 2 23 14 24 4 24 6 24 10 23 10 11-11-24-5-24-7-24-2-24-7-23-7-24-10-24-6-23-8-24-12-23-14-24-13-23-12-24-12-23-16-23-12-24-21-23-14-24-7-23-8-24-4-23-17-23-8-24-21-23-15-24 2-23-19-23-23-23-10-24 12-23-6-24-7-23-2-24-15-23-2-23-2-24-11-23 2-23-15-23-15-24-11-23-15-23-11-23-6-23-25-23-16-24-1-23 1-23-23-23 16-23-17-23-13-23 19-24-7-23-10-23-10-23 0-23-1-23-10-23 6-22-1-23 8-23 0-23 10-23 18-23-4-22 13-23 0-23 4-22 8-23 10-22 11-23 5-22 1-23 13-22-3-23 12-22-3-22 7-23 5-22 2-22 5-23-4-22-6-22 1-23-1-22-5z" fill="url(#s24)"/>
<path d="M1521 2089l22-1 23 5 22 3 22-4 22-4 23-2 22-5 22-12 23-13 22-7 22-9 23-17 22-5 23-21 22-22 22-11 23-15 23-9 22-10 23-17 23-25 22-4 23-24 23-19 23-8 23 5 23-16 23-13 23 11 23 3 23-31 24 11 23 41 23-31 23 31 23-22 24-9 23 27 23 6 24 4 23 45 23-5 23 20 24 21 23 17 23 0 24 29 23 31 23 1 23 19 24 15 23-9 24 15 23-3 24 13 23-3 24 7 23 5 24 10 23 16 23 24 24 6 23 33 24 9 23 20 24 5 23 23 23 12 24 13 23 28 24 8 23 20 23 23 23 24 23 25 24 25 23 15 24 12 23 16 24 2 23 12 24 10 24 3 24 5 23 11 24 6 10 0-23-10-24-10-24-6-24-4-23-14-24-2-24-9-23-13-24-5-23-15-24-18-23-20-23-21-24-14-23-14-23-22-24-15-23-16-24-4-23-17-23-14-24-23-23-12-24-11-23-16-24 1-23-21-23-18-24-2-23 2-24-4-23 7-24-17-23-12-23-2-24-13-23-21-23 4-23-8-24-24-23-13-23 11-23-50-24 12-23-14-23-32-23 10-23-23-24-4-23 6-23-19-23 7-23-17-23 4-24-10-23-1-23-8-23 25-23-7-23-3-23 25-23-23-22 30-23-5-23 12-22 28-23-4-23 19-23 0-22 15-23 6-22 15-23 11-22 11-22 8-23 10-22 11-22 5-23 2-22 6-22 8-23-5-22-6-22 1-23 2-22-5z" fill="url(#s23)"/>
<path d="M1510 2092l22 4 23 4 22 0 22-5 22-5 23-5 22-11 22-13 22-18 23-15 22-13 22-18 23-12 22-30 22-25 23-2 23-12 22-47 23-14 22-22 23 2 23-30 22-66 23 24 23-26 23-3 24 16 23-27 23-15 23 23 23-33 23 28 24-6 23-8 23 14 24 20 23-31 23 37 24-37 23 49 24-27 23 49 23 2 23 77 24-10 23 10 24 27 23 43 23-1 24 1 23 17 23 42 24-7 23 12 24-9 23 20 24-25 24 11 24-2 23 35 23 30 23 17 24 1 23 35 24 28 23 9 23 20 24 6 23 28 24 25 23 9 23 37 23 30 23 36 23 17 24 26 23 16 23 17 24 8 24 14 23 12 24 7 24 10 23 5 24 10 24 4 10-2-24-6-23-11-24-5-24-3-24-10-23-12-24-2-23-16-24-12-23-15-24-25-23-25-23-24-23-23-23-20-24-8-23-28-24-13-23-12-23-23-24-5-23-20-24-9-23-33-24-6-23-24-23-16-24-10-23-5-24-7-23 3-24-13-23 3-24-15-23 9-24-15-23-19-23-1-23-31-24-29-23 0-23-17-24-21-23-20-23 5-23-45-24-4-23-6-23-27-24 9-23 22-23-31-23 31-23-41-24-11-23 31-23-3-23-11-23 13-23 16-23-5-23 8-23 19-23 24-22 4-23 25-23 17-22 10-23 9-23 15-22 11-22 22-23 21-22 5-23 17-22 9-22 7-23 13-22 12-22 5-23 2-22 4-22 4-22-3-23-5-22 1z" fill="url(#s22)"/>
<path d="M1499 2099l22 1 23 4 22-1 22 2 22-13 23-9 22-14 22-19 22-26 22-14 22-20 23-25 22-28 22-50 23 3 22-19 23-29 22-55 23-13 22-36 23-16 23 8 23-36 22-70 24-2 23-38 23 22 23-6 23 5 24-14 23-9 23 27 24-15 23 10 23 11 24-16 23 25 24-4 23-25 24 47 23 11 23 62 24 9 23 1 24 35 23 23 23 35 24-6 24 21 23 1 23 73 24-23 23 22 24-11 23 23 24-1 24-21 24 22 23 36 24-18 23 38 23 20 24 28 23 27 23 22 24 34 23 6 24 27 23 24 23 24 24 20 23 39 23 27 23 31 23 35 23 34 23 22 23 19 24 15 23 12 24 7 24 13 23 7 24 12 24 2 24 14 10-9-24-4-24-10-23-5-24-10-24-7-23-12-24-14-24-8-23-17-23-16-24-26-23-17-23-36-23-30-23-37-23-9-24-25-23-28-24-6-23-20-23-9-24-28-23-35-24-1-23-17-23-30-23-35-24 2-24-11-24 25-23-20-24 9-23-12-24 7-23-42-23-17-24-1-23 1-23-43-24-27-23-10-24 10-23-77-23-2-23-49-24 27-23-49-24 37-23-37-23 31-24-20-23-14-23 8-24 6-23-28-23 33-23-23-23 15-23 27-24-16-23 3-23 26-23-24-22 66-23 30-23-2-22 22-23 14-22 47-23 12-23 2-22 25-22 30-23 12-22 18-22 13-23 15-22 18-22 13-22 11-23 5-22 5-22 5-22 0-23-4-22-4z" fill="url(#s21)"/>
<path d="M1488 2106l22-1 22 2 23-3 22-5 22-6 22-16 23-16 21-33 23-13 22-33 22-35 22-14 22-49 22-26 23-24 22-54 22-43 23-31 22-37 23 4 23-51 22-73 24-4 23-31 23 3 23-31 23-40 23 2 24 53 23-89 23-10 24 14 23-9 24 2 23 22 24-17 24 16 23 46 24-25 23-31 24 80 23 76 24 29 23 17 24 16 23 13 24 28 23 37 24 11 23 39 24 0 23 26 24 5 24 3 23-3 24 10 24 11 23 11 25-44 23 70 23 7 23 67 24 5 23 29 24 18 23 35 24 12 23 35 23 28 23 42 23 28 23 33 23 48 23 34 23 44 23 34 23 33 23 15 24 17 23 13 24 18 24 8 23 10 24 10 24 11 23 8 11-2-24-14-24-2-24-12-23-7-24-13-24-7-23-12-24-15-23-19-23-22-23-34-23-35-23-31-23-27-23-39-24-20-23-24-23-24-24-27-23-6-24-34-23-22-23-27-24-28-23-20-23-38-24 18-23-36-24-22-24 21-24 1-23-23-24 11-23-22-24 23-23-73-23-1-24-21-24 6-23-35-23-23-24-35-23-1-24-9-23-62-23-11-24-47-23 25-24 4-23-25-24 16-23-11-23-10-24 15-23-27-23 9-24 14-23-5-23 6-23-22-23 38-24 2-22 70-23 36-23-8-23 16-22 36-23 13-22 55-23 29-22 19-23-3-22 50-22 28-23 25-22 20-22 14-22 26-22 19-22 14-23 9-22 13-22-2-22 1-23-4-22-1z" fill="url(#s20)"/>
<path d="M1477 2112l22-3 22 4 23-6 22-8 22-12 22-11 22-35 22-35 22-15 22-33 22-38 23-18 21-46 23-39 22-33 22-77 22-48 23-8 22-70 23-72 23 24 23-51 22-47 23-78 23-38 24 4 23-4 23-1 24-11 23-26 24-29 23 13 24-12 24 41 23-12 24 27 24-19 23 72 24 9 24-68 23 47 24 59 23 73 24-12 24 65 23 17 24 23 23 33 24 2 23 37 24 15 24 37 23-9 24-8 24 48 24-34 24 22 24-32 23 36 24 13 23 82 23 10 24 42 23 30 24 4 23 43 23 35 24 24 23 24 23 46 23 37 23 47 23 32 23 60 22 52 23 40 23 29 23 29 24 17 23 11 24 20 24 8 23 13 24 9 24 8 23 13 10-3-23-8-24-11-24-10-23-10-24-8-24-18-23-13-24-17-23-15-23-33-23-34-23-44-23-34-23-48-23-33-23-28-23-42-23-28-23-35-24-12-23-35-24-18-23-29-24-5-23-67-23-7-23-70-25 44-23-11-24-11-24-10-23 3-24-3-24-5-23-26-24 0-23-39-24-11-23-37-24-28-23-13-24-16-23-17-24-29-23-76-24-80-23 31-24 25-23-46-24-16-24 17-23-22-24-2-23 9-24-14-23 10-23 89-24-53-23-2-23 40-23 31-23-3-23 31-24 4-22 73-23 51-23-4-22 37-23 31-22 43-22 54-23 24-22 26-22 49-22 14-22 35-22 33-23 13-21 33-23 16-22 16-22 6-22 5-23 3-22-2-22 1z" fill="url(#s19)"/>
<path d="M1466 2111l22 5 22-2 23-3 22-6 22-19 22-20 22-20 22-36 21-53 23-18 22-45 22-33 22-50 21-69 23 1 22-90 23-23 22-58 23-18 22-73 23-35 23-23 22-82 23-34 23-109 24-4 23-33 24 23 23 16 24-6 23-26 24 27 24-31 23 16 24 3 24-52 24 68 23 16 24 1 24-73 24 116 23 99 24-14 24 65 24-48 23 83 24 4 23 38 24 12 24 57 23 6 24 11 24 34 23 16 24 24 24-42 24 20 24-21 23 73 25-17 23 68 23 17 24 19 23 62 24 1 23 64 23 48 23 23 24 24 22 56 24 25 22 58 23 55 23 56 22 46 23 43 23 45 23 25 24 13 23 27 24 14 23 11 24 15 24 7 23 9 24 16 10-6-23-13-24-8-24-9-23-13-24-8-24-20-23-11-24-17-23-29-23-29-23-40-22-52-23-60-23-32-23-47-23-37-23-46-23-24-24-24-23-35-23-43-24-4-23-30-24-42-23-10-23-82-24-13-23-36-24 32-24-22-24 34-24-48-24 8-23 9-24-37-24-15-23-37-24-2-23-33-24-23-23-17-24-65-24 12-23-73-24-59-23-47-24 68-24-9-23-72-24 19-24-27-23 12-24-41-24 12-23-13-24 29-23 26-24 11-23 1-23 4-24-4-23 38-23 78-22 47-23 51-23-24-23 72-22 70-23 8-22 48-22 77-22 33-23 39-21 46-23 18-22 38-22 33-22 15-22 35-22 35-22 11-22 12-22 8-23 6-22-4-22 3z" fill="url(#s18)"/>
<path d="M1455 2122l22 5 22-8 23-3 22-7 22-19 22-23 21-36 22-39 22-46 22-43 22-32 22-46 22-68 22-25 22-50 22-74 23-3 22-106 22-34 23-71 23-44 22-48 23-75 24 29 22-162 24 30 23-66 23-64 24 90 24-55 23-59 24 67 24-31 24 69 24-78 24-4 23 55 24-33 24-1 24 66 24-17 24 80 24 52 23 96 24 56 24-1 23 33 24 46 24 42 23 47 24-20 23 59 24 19 24-2 24-6 25-49 24 13 24-29 23 65 24 39 23 48 24 15 23 38 23 61 24 37 23 33 23 52 23 35 24 27 23 36 23 49 22 82 24 19 22 90 22 58 23 39 23 32 23 30 23 30 24 9 23 25 24 15 24 9 23 14 24 7 24 17 10-4-24-16-23-9-24-7-24-15-23-11-24-14-23-27-24-13-23-25-23-45-23-43-22-46-23-56-23-55-22-58-24-25-22-56-24-24-23-23-23-48-23-64-24-1-23-62-24-19-23-17-23-68-25 17-23-73-24 21-24-20-24 42-24-24-23-16-24-34-24-11-23-6-24-57-24-12-23-38-24-4-23-83-24 48-24-65-24 14-23-99-24-116-24 73-24-1-23-16-24-68-24 52-24-3-23-16-24 31-24-27-23 26-24 6-23-16-24-23-23 33-24 4-23 109-23 34-22 82-23 23-23 35-22 73-23 18-22 58-23 23-22 90-23-1-21 69-22 50-22 33-22 45-23 18-21 53-22 36-22 20-22 20-22 19-22 6-23 3-22 2-22-5z" fill="url(#s17)"/>
<path d="M1443 2125l23 1 22 1 22-10 22-12 22-23 22-25 22-32 22-46 21-52 23-22 21-71 22-26 22-77 22-43 22-96 22-11 22-101 23-58 22-53 23-26 22-87 23-45 23-76 23-46 23-61 23-47 24-48 23-23 24-63 23-28 25 52 23-46 24 15 24 46 24 16 24-5 24 36 24 61 24-3 24-93 24 83 24 70 24 110 24-46 24 83 23 39 24 80 24 28 24 9 23 58 24 5 24 43 23 10 25-34 23 62 25-44 24-43 24 39 24 36 24 13 22 88 25 0 22 114 24-8 24 25 23 62 22 74 24 20 23 37 23 42 23 49 23 68 23 44 22 69 22 80 23 58 23 37 23 21 23 27 24 20 23 23 24 3 24 21 23 9 24 13 23 19 11-4-24-17-24-7-23-14-24-9-24-15-23-25-24-9-23-30-23-30-23-32-23-39-22-58-22-90-24-19-22-82-23-49-23-36-24-27-23-35-23-52-23-33-24-37-23-61-23-38-24-15-23-48-24-39-23-65-24 29-24-13-25 49-24 6-24 2-24-19-23-59-24 20-23-47-24-42-24-46-23-33-24 1-24-56-23-96-24-52-24-80-24 17-24-66-24 1-24 33-23-55-24 4-24 78-24-69-24 31-24-67-23 59-24 55-24-90-23 64-23 66-24-30-22 162-24-29-23 75-22 48-23 44-23 71-22 34-22 106-23 3-22 74-22 50-22 25-22 68-22 46-22 32-22 43-22 46-22 39-21 36-22 23-22 19-22 7-23 3-22 8-22-5z" fill="url(#s16)"/>
<path d="M1432 2134l23-3 22 0 22-7 22-18 22-16 22-43 22-28 21-55 22-55 22-37 22-48 22-50 21-70 22-72 22-46 22-80 22-53 23-36 22-127 23-49 22-46 23-56 22-168 24 6 22-130 24 49 23-123 24-1 24 31 24-39 23-133 25 121 24 22 24-23 24 30 24-23 24 47 24-40 24-1 24 41 24 11 24 162 24 15 24 49 24 49 24 13 23 105 24 20 24 103 24-11 24-41 23 100 25-14 24-3 24 0 24-31 24 57 24-9 24 2 24 59 23 74 24 14 23 82 23 53 24-16 23 62 24 48 23 40 23 54 23 65 23 28 23 57 22 90 22 74 23 60 22 72 23 47 23 31 23 25 24 25 23 19 24 9 23 23 24 12 23 17 24 12 10-4-23-19-24-13-23-9-24-21-24-3-23-23-24-20-23-27-23-21-23-37-23-58-22-80-22-69-23-44-23-68-23-49-23-42-23-37-24-20-22-74-23-62-24-25-24 8-22-114-25 0-22-88-24-13-24-36-24-39-24 43-25 44-23-62-25 34-23-10-24-43-24-5-23-58-24-9-24-28-24-80-23-39-24-83-24 46-24-110-24-70-24-83-24 93-24 3-24-61-24-36-24 5-24-16-24-46-24-15-23 46-25-52-23 28-24 63-23 23-24 48-23 47-23 61-23 46-23 76-23 45-22 87-23 26-22 53-23 58-22 101-22 11-22 96-22 43-22 77-22 26-21 71-23 22-21 52-22 46-22 32-22 25-22 23-22 12-22 10-22-1-23-1z" fill="url(#s15)"/>
<path id="p14" d="M1421 2140l8 0 7 0 8-4 7 0 8 0 7-6 7 6 8-5 7-4 8-1 7-9 7 0 8-4 7-15 7-1 7-17 8-6 7-24 7-2 7-21 8 2 7-27 7-22 7-6 7-17 8-25 7-17 7-14 7-17 8-10 7-28 7-8 7-25 8-18 7-1 7-33 7-17 8-23 7-27 7-20 7-18 8-16 7-53 7 1 8-6 7-30 7-52 7-46 8-15 7 10 7-51 9 39 6-84 8 0 7-32 8 18 7-64 8 27 8-9 6-114 9 59 7-84 8 24 7-35 8-28 7-63 8-9 8 19 7-41 7-89 8-36 8 55 7-71 8 22 8-62 8 62 7-90 9 42 8 25 7-92 8-5 8 74 8 25 8-106 7-30 9 40 7-30 9 17 7 1 8-42 8-48 8 38 8 29 8 22 8-45 9 110 7-107 8 9 8 1 8 9 8-5 9 62 7-99 8 46 8-20 8 28 9 45 7-88 9 34 8 2 8-29 8-60 8 88 8-26 8-55 8 100 8-69 8 61 8-41 8 44 8-28 8 97 8 10 8 30 8 13 8-32 8 47 8 8 8 59 8 11 8 2 8 25 8 54 8 11 8 42 8-54 8 9 8-12 7 190 9-124 8 21 8-56 7 123 8 27 9-27 7 70 8 12 8-51 8 84 8-7 8-68 8 29 8 70 8-78 8 50 8 12 8-9 8 15 8-28 8 11 8 54 8-7 8-37 8 39 8 13 7 37 10-104 7 20 8 7 8 14 9-13 8-16 7 38 9-31 9-44 7 76 8-6 8-31 8 61 8-21 8 31 7 26 8 42 7 28 9-26 7 47 8 22 7 70 9-41 8-44 7 63 9-11 7 55 7 51 8-22 9-19 7 47 8 28 7 13 8 39 8-4 8 3 8 2 7 17 8 50 7 33 8-15 8 23 8-11 7 52 8-10 8 33 8-5 7 36 7 53 8 17 8-8 7 37 8 5 7 43 8 4 7 45 7 27 7 36 8 2 8 25 7 25 8 1 7 26 7 29 8 2 8 22 8 5 7 9 8 14 8 4 8 7 8 4 7 16 8 13 8-2 8 4 8 6 8 2 7 9 8 5 8 4 8 6 8 0 8 13 8 1 8 5 8 3 7 11 8 2 8 5 8 1 8 8 8 4 10-6-8-3-8-7-8-1-8-4-7-10-8-4-8-3-8-7-8 4-8-9-8-5-7-10-8-8-8-1-8-10-8 2-8-8-7-8-8-3-8-10-8-3-8-12-7-11-8-4-8-10-8-14-8-3-7-14-8-20-7-23-8-4-8-4-7-31-7-37-8-18-7-21-8-21-7-37-8-9-7-28-8-13-7-34-7-43-8-7-8-14-7-36-8 18-7-49-8 3-8-17-8 21-7-69-8 1-8-20-7-35-8-15-8 4-7-29-8-4-8-6-8-38-8 19-8-29-7-52-8 19-9 30-7-33-7-45-8-50-8 42-8-17-8-26-7-39-8-21-8-4-8 11-7-60-8-4-8-10-7-59-8-19-9 19-8 16-8-16-8-2-7-33-8-15-9 57-8 19-8 1-8-77-8 36-8-40-8 35-8-30-8-9-8 39-8-40-9 80-7-37-8-29-8 21-9 22-8 12-7-43-8-69-9 104-7-45-8-18-9 41-7-88-8 58-8-92-8-8-8-3-8 38-7-109-9 51-7-8-8-45-8-52-8 3-8 17-8-33-8-25-8 2-8-26-8 40-8-81-8-8-8-28-8-40-8 53-8-63-8-99-8 0-8-16-8-48-8 53-8-90-8 90-8-41-8-41-8 34-8 8-8-53-8 75-8 18-8 14-8-67-8 6-8 22-8 35-8-34-8 17-8-29-8-18-8 5-8-27-8 45-8-58-8 49-8-13-8 37-8 7-9-165-7 173-8 0-8-40-8-31-8 37-8 33-8-52-8 3-8 18-8-33-8 43-8-9-7 123-8 12-8-12-8 2-8-65-8 14-7 93-8-26-7 63-8-17-8 28-8-17-7 129-8-19-7 58-7 30-9-49-7 75-8-45-7 70-7 21-8 17-8 10-7 22-8 0-7 52-7 75-7 11-8-8-8 33-7-9-8 27-7 35-7 45-8-9-7 44-8-13-6 54-8 5-8 1-6 59-8 12-7 29-8-1-6 42-8-19-7 42-7 27-7 27-8-3-7 24-8 12-7 16-7 9-7 18-8 15-7 22-7 18-7 26-7 11-7 19-8 10-7-1-7 16-7 15-8 12-7 2-7 9-8 5-7 10-7 1-8 7-7 4-8-1-7 4-7-2-8 2-7 0-8 6-7-2-8-1z" fill="url(#s14)"/>
<clipPath id="c14"><use href="#p14"/></clipPath><pattern id="k14" href="#sk" patternTransform="translate(340)"/>
<rect x="1400" y="550" width="2000" height="1900" fill="url(#k14)" clip-path="url(#c14)"/>
<path id="p13" d="M1410 2148l8-2 7 2 8 3 7-7 7 1 8 2 7-5 8-1 7 1 8-7 7-4 7-6 8 0 7-9 7-6 8-9 7-7 7-14 8-7 7-10 7-18 7-5 7-20 8-17 7-24 7 0 7-23 8-1 7-17 7-22 8-6 7-22 7-16 7-34 8 6 7-31 7 5 8-20 7-6 7-73 8 41 7-40 7-20 7-35 8-1 7-58 7-14 8-9 7-17 7-38 8-4 7-47 8-3 7 2 8-34 7-9 7-42 8 15 8-24 8 14 7-67 7-13 8 10 7-85 8 27 8 13 7-96 8 21 8 64 7-126 8-12 7-22 8-7 8 10 7-50 9 51 7-69 7-46 8-9 9 36 7-98 8 54 8 21 8-30 8 29 7-62 9 62 8-11 8 14 7-19 8-19 8-88 8 62 8-42 8 47 8-35 8 77 8 7 7-114 9 55 8 77 8-82 8 27 8 4 8-40 8 83 7-100 9 39 8 35 8 32 7-122 9 85 8 43 8-44 8-22 8-4 8-32 8 40 8 32 8-92 8 20 8 135 8-57 8 88 8-57 8 107 8-26 8-26 7 64 9-14 7 87 8 34 8 9 8-45 8 57 8-50 8 72 8-42 8 48 8 56 8-19 8-3 8 11 7 31 9-25 8 17 7 11 8 63 8 45 8-63 8 45 8 0 8-4 8-7 7 59 9-38 8-32 7 75 9-27 8-40 8 19 8 6 8 15 7 41 9-37 7 21 9-33 8 27 8 3 8-37 8-29 8 41 8-12 8-12 8 12 8 59 8-11 8-15 8 28 8-25 8 43 7 53 8-26 8 9 8 24 8 23 7 54 8-14 8 0 7 39 8 7 8 2 8 37 8 14 8 5 7 11 9-7 7 30 7 32 9-13 7 33 8-16 8 36 8 0 8 16 7 23 8 31 8 0 8-12 7 36 8-4 8 31 7 20 8 31 8-3 7 36 8 14 7 8 7 49 9-13 7 46 7 27 8 3 7 37 8 12 7 20 8 14 7 17 8 22 8 14 7 21 8-1 8 8 8 12 7 6 8 9 8 5 8 15 8-5 7 10 8 9 8 7 8 7 8 4 8 2 7 9 9-1 7 6 8 7 8 3 8 8 8-2 8 7 8-3 8 11 8 4 7 12 8-5 8 6 11-10-8-4-8-8-8-1-8-5-8-2-7-11-8-3-8-5-8-1-8-13-8 0-8-6-8-4-8-5-7-9-8-2-8-6-8-4-8 2-8-13-7-16-8-4-8-7-8-4-8-14-7-9-8-5-8-22-8-2-7-29-7-26-8-1-7-25-8-25-8-2-7-36-7-27-7-45-8-4-7-43-8-5-7-37-8 8-8-17-7-53-7-36-8 5-8-33-8 10-7-52-8 11-8-23-8 15-7-33-8-50-7-17-8-2-8-3-8 4-8-39-7-13-8-28-7-47-9 19-8 22-7-51-7-55-9 11-7-63-8 44-9 41-7-70-8-22-7-47-9 26-7-28-8-42-7-26-8-31-8 21-8-61-8 31-8 6-7-76-9 44-9 31-7-38-8 16-9 13-8-14-8-7-7-20-10 104-7-37-8-13-8-39-8 37-8 7-8-54-8-11-8 28-8-15-8 9-8-12-8-50-8 78-8-70-8-29-8 68-8 7-8-84-8 51-8-12-7-70-9 27-8-27-7-123-8 56-8-21-9 124-7-190-8 12-8-9-8 54-8-42-8-11-8-54-8-25-8-2-8-11-8-59-8-8-8-47-8 32-8-13-8-30-8-10-8-97-8 28-8-44-8 41-8-61-8 69-8-100-8 55-8 26-8-88-8 60-8 29-8-2-9-34-7 88-9-45-8-28-8 20-8-46-7 99-9-62-8 5-8-9-8-1-8-9-7 107-9-110-8 45-8-22-8-29-8-38-8 48-8 42-7-1-9-17-7 30-9-40-7 30-8 106-8-25-8-74-8 5-7 92-8-25-9-42-7 90-8-62-8 62-8-22-7 71-8-55-8 36-7 89-7 41-8-19-8 9-7 63-8 28-7 35-8-24-7 84-9-59-6 114-8 9-8-27-7 64-8-18-7 32-8 0-6 84-9-39-7 51-7-10-8 15-7 46-7 52-7 30-8 6-7-1-7 53-8 16-7 18-7 20-7 27-8 23-7 17-7 33-7 1-8 18-7 25-7 8-7 28-8 10-7 17-7 14-7 17-8 25-7 17-7 6-7 22-7 27-8-2-7 21-7 2-7 24-8 6-7 17-7 1-7 15-8 4-7 0-7 9-8 1-7 4-8 5-7-6-7 6-8 0-7 0-8 4-7 0-8 0z" fill="url(#s13)"/>
<clipPath id="c13"><use href="#p13"/></clipPath><pattern id="k13" href="#sk" patternTransform="translate(882)"/>
<rect x="1400" y="550" width="2000" height="1900" fill="url(#k13)" clip-path="url(#c13)"/>
<path id="p12" d="M1399 2153l8 5 7-3 7-3 8 4 7 0 8-2 7 0 8-5 7-3 8 3 7-3 7-11 8 1 7-4 7-9 8-6 7-8 8-3 7-18 7-7 7-11 8-11 7-7 7-20 7-6 8-19 7-13 7-6 8-6 7-24 7-15 8 1 7-13 7-28 8 2 7-28 7 5 8-22 7-27 7-19 8 11 7-24 7-38 7-25 8-5 7-13 8-26 7 14 7-45 8-23 7-16 8 16 7-19 7-57 9 32 7-26 7-63 8 39 7-24 8-42 7-18 8 8 8 10 7-35 7-36 8 8 8-19 7-76 8-10 7-18 8-17 8 34 7-56 8-32 8 0 8 46 8 0 7-34 8-47 8 12 7-21 9 50 7-77 8 44 7-66 9 35 8 93 7-91 8 14 8 1 8-26 8-46 8 12 7-19 9 42 8 66 8-41 8 8 7-5 8-113 8 59 8 64 8-72 8 50 8 40 8-88 8 59 8-20 8-73 8 117 8-69 8 42 8 28 8-20 7-11 8-4 8 65 8-79 8 60 8-35 8 10 8 36 8-17 8 62 8 31 8 29 8 30 8-23 8 63 8-41 8 23 8-49 7 93 9-50 7 38 8 10 8 42 8 15 8 1 8-3 8-3 8 40 8-39 8 7 7 111 8-55 8 15 8 32 8 50 8-11 8-31 8-12 8 6 8 8 8 17 8-20 8 16 8-15 7 40 8 9 8 25 9-63 7 45 8 13 8 27 8-68 8 39 8-35 8 0 9-33 7 46 8 29 9-62 8 17 7 29 8-12 9-31 7 53 8 30 8 5 8-4 8 17 7 11 8 19 8 45 8-27 8 5 8 24 7 26 8 8 8 10 8 14 7 44 8-16 9-10 7 41 8 9 8-8 7 25 8 20 8 0 8-11 8 12 8 34 7 18 8-2 8 17 8 13 7 18 8 30 7 16 8-2 8 24 8-4 8 12 8 16 7 31 8 1 7 26 8 31 7 14 8 28 7 39 8-12 8 18 7 20 8 19 7 17 8 12 7 17 8 5 8 18 8 6 8-2 7 23 8 1 8 1 8 9 8 4 8 3 7 7 8 2 8 5 8 10 8 2 8 7 8 3 8-3 8 11 8 2 7 9 8 5 8-3 8 12 8-4 8 9 8 3 8 5 8 2 10-12-8-6-8 5-7-12-8-4-8-11-8 3-8-7-8 2-8-8-8-3-8-7-7-6-9 1-7-9-8-2-8-4-8-7-8-7-8-9-7-10-8 5-8-15-8-5-8-9-7-6-8-12-8-8-8 1-7-21-8-14-8-22-7-17-8-14-7-20-8-12-7-37-8-3-7-27-7-46-9 13-7-49-7-8-8-14-7-36-8 3-8-31-7-20-8-31-8 4-7-36-8 12-8 0-8-31-7-23-8-16-8 0-8-36-8 16-7-33-9 13-7-32-7-30-9 7-7-11-8-5-8-14-8-37-8-2-8-7-7-39-8 0-8 14-7-54-8-23-8-24-8-9-8 26-7-53-8-43-8 25-8-28-8 15-8 11-8-59-8-12-8 12-8 12-8-41-8 29-8 37-8-3-8-27-9 33-7-21-9 37-7-41-8-15-8-6-8-19-8 40-9 27-7-75-8 32-9 38-7-59-8 7-8 4-8 0-8-45-8 63-8-45-8-63-7-11-8-17-9 25-7-31-8-11-8 3-8 19-8-56-8-48-8 42-8-72-8 50-8-57-8 45-8-9-8-34-7-87-9 14-7-64-8 26-8 26-8-107-8 57-8-88-8 57-8-135-8-20-8 92-8-32-8-40-8 32-8 4-8 22-8 44-8-43-9-85-7 122-8-32-8-35-9-39-7 100-8-83-8 40-8-4-8-27-8 82-8-77-9-55-7 114-8-7-8-77-8 35-8-47-8 42-8-62-8 88-8 19-7 19-8-14-8 11-9-62-7 62-8-29-8 30-8-21-8-54-7 98-9-36-8 9-7 46-7 69-9-51-7 50-8-10-8 7-7 22-8 12-7 126-8-64-8-21-7 96-8-13-8-27-7 85-8-10-7 13-7 67-8-14-8 24-8-15-7 42-7 9-8 34-7-2-8 3-7 47-8 4-7 38-7 17-8 9-7 14-7 58-8 1-7 35-7 20-7 40-8-41-7 73-7 6-8 20-7-5-7 31-8-6-7 34-7 16-7 22-8 6-7 22-7 17-8 1-7 23-7 0-7 24-8 17-7 20-7 5-7 18-7 10-8 7-7 14-7 7-8 9-7 6-7 9-8 0-7 6-7 4-8 7-7-1-8 1-7 5-8-2-7-1-7 7-8-3-7-2-8 2z" fill="url(#s12)"/>
<clipPath id="c12"><use href="#p12"/></clipPath><pattern id="k12" href="#sk" patternTransform="translate(436)"/>
<rect x="1400" y="550" width="2000" height="1900" fill="url(#k12)" clip-path="url(#c12)"/>
<path id="p11" d="M1388 2160l8 3 7-1 7 1 8 0 7-4 8 2 7 1 8-2 7-7 8 7 7-9 7 4 8-2 7-9 7-10 8-2 7-9 8-3 7-17 7-2 7-12 8-10 7-6 7-6 8-17 7-8 7-10 8-13 7-20 8 9 7-8 7-15 8-5 7-29 7-4 7-15 8 3 7-38 8-5 7-1 7-36 7-12 8-14 7-9 8 0 7-39 8 0 7-21 7-17 8-12 7-1 8-27 7-15 7-35 8 22 7-44 8-5 8-6 7-44 8 6 8 12 7-25 8 6 7-10 8-25 7-18 7-66 8 5 9 54 7-67 7-5 8-28 7-19 8-7 8-20 8 24 7-67 8 30 8-40 8 25 7-19 8 37 8-64 8 20 8 9 7-22 8-6 8 58 8-22 8 4 8-58 8 22 8 24 7-5 8-15 8 62 8-56 8-51 8 87 8-10 8-2 7-42 8 35 8-71 8 60 8 9 8 21 8-53 8-14 8 29 8-30 8 6 8 24 8 10 7 19 8-17 8 20 8-52 8 21 8 38 8 8 8-15 8 1 8 47 8-1 8 46 8-1 8 2 8 25 7 8 8 0 8 41 8-14 8 45 8-6 8 34 8 5 8-13 8-2 7 37 8 8 8-20 8 59 8-30 8 57 8 24 8-37 8 20 7 11 8 46 8-47 8 27 8 12 8-17 8 27 8-7 8 5 8-25 8 18 8-19 7 44 8 10 9-56 7 60 9-50 7 40 9-35 7 24 9-41 8-13 8 15 7 16 8 11 8-11 9-23 7 55 8 21 8-46 8 53 8-7 8 23 7 8 8 27 8 9 7 33 8-3 8 11 9-16 7 33 8 4 7 43 9-20 8-11 7 32 8 2 8 28 8 12 8-9 7 28 8 20 8-6 8 14 8-8 8 16 7 37 8-16 8 30 8-2 8 9 7 22 8 14 8 2 7 22 8 18 8-7 8 18 7 24 8 18 8 13 7 22 8 16 7 13 8 28 8 2 7 22 8 21 7 12 8 19 8 13 7 9 8-2 8 12 8 7 8 10 8-1 7 10 8 8 8 9 8-3 8 15 8 0 8 8 7 3 8 3 8 7 8 1 8 1 8 6 8 5 8 3 8 5 8 5 7 8 9-1 7 3 8 7 8 0 8 3 8 2 11-7-8-2-8-5-8-3-8-9-8 4-8-12-8 3-8-5-7-9-8-2-8-11-8 3-8-3-8-7-8-2-8-10-8-5-8-2-7-7-8-3-8-4-8-9-8-1-8-1-7-23-8 2-8-6-8-18-8-5-7-17-8-12-7-17-8-19-7-20-8-18-8 12-7-39-8-28-7-14-8-31-7-26-8-1-7-31-8-16-8-12-8 4-8-24-8 2-7-16-8-30-7-18-8-13-8-17-8 2-7-18-8-34-8-12-8 11-8 0-8-20-7-25-8 8-8-9-7-41-9 10-8 16-7-44-8-14-8-10-8-8-7-26-8-24-8-5-8 27-8-45-8-19-7-11-8-17-8 4-8-5-8-30-7-53-9 31-8 12-7-29-8-17-9 62-8-29-7-46-9 33-8 0-8 35-8-39-8 68-8-27-8-13-7-45-9 63-8-25-8-9-7-40-8 15-8-16-8 20-8-17-8-8-8-6-8 12-8 31-8 11-8-50-8-32-8-15-8 55-7-111-8-7-8 39-8-40-8 3-8 3-8-1-8-15-8-42-8-10-7-38-9 50-7-93-8 49-8-23-8 41-8-63-8 23-8-30-8-29-8-31-8-62-8 17-8-36-8-10-8 35-8-60-8 79-8-65-8 4-7 11-8 20-8-28-8-42-8 69-8-117-8 73-8 20-8-59-8 88-8-40-8-50-8 72-8-64-8-59-8 113-7 5-8-8-8 41-8-66-9-42-7 19-8-12-8 46-8 26-8-1-8-14-7 91-8-93-9-35-7 66-8-44-7 77-9-50-7 21-8-12-8 47-7 34-8 0-8-46-8 0-8 32-7 56-8-34-8 17-7 18-8 10-7 76-8 19-8-8-7 36-7 35-8-10-8-8-7 18-8 42-7 24-8-39-7 63-7 26-9-32-7 57-7 19-8-16-7 16-8 23-7 45-7-14-8 26-7 13-8 5-7 25-7 38-7 24-8-11-7 19-7 27-8 22-7-5-7 28-8-2-7 28-7 13-8-1-7 15-7 24-8 6-7 6-7 13-8 19-7 6-7 20-7 7-8 11-7 11-7 7-7 18-8 3-7 8-8 6-7 9-7 4-8-1-7 11-7 3-8-3-7 3-8 5-7 0-8 2-7 0-8-4-7 3-7 3-8-5z" fill="url(#s11)"/>
<clipPath id="c11"><use href="#p11"/></clipPath><pattern id="k11" href="#sk" patternTransform="translate(684)"/>
<rect x="1400" y="550" width="2000" height="1900" fill="url(#k11)" clip-path="url(#c11)"/>
<path id="p10" d="M1377 2164l8 9 7-4 7 1 8 1 7 1 8 4 7-4 8-3 7 1 8-1 7-7 7 0 8-3 7-4 8-2 7-10 7-2 8-1 7-8 7-16 8-5 7-1 7-14 8-13 7-2 7-15 8-12 7 1 7-10 8 0 7-8 8-22 7-4 7-9 8-18 7-4 7-21 8 4 7-14 8-6 7-10 7-28 8-2 7-26 8 5 7-20 7-29 8 11 7-14 8 12 7-67 8 10 7-17 8 4 7-25 8 12 7-36 8-2 7-7 8-19 8 24 7-43 8 2 7-49 8-1 7 10 8-17 7-83 8 69 7-78 8 8 8 0 8 44 7-69 8 23 8-6 7-37 8 25 8-34 8 28 7-41 8 0 8 26 8-7 8-5 7-3 8-4 8-62 8 36 8 18 8-1 7 12 8-32 8 4 8 28 8-3 8-9 8 21 7-28 8 28 8-34 8 14 8-20 8 32 8 29 8-9 7-30 8-13 8 5 8-2 8-4 8 5 8 8 8 16 7-16 8 19 8-5 8-5 8-44 8 100 8-19 8-2 8-2 8 30 8-24 7 88 8-69 8 85 8-1 8-14 8 24 8 12 8 8 8 4 8-3 7 25 8 37 8 4 8-35 8-3 8 26 8 14 8 19 8-30 7 60 8 5 8 17 8-37 8 42 8-7 7 40 8 6 8-33 8 6 8 0 8 14 8 10 8 6 8 18 8-15 8-22 8 29 7 19 8-15 8 14 8 1 8-22 8 7 8 14 9-53 8-7 7 31 9-22 7 36 8-4 8-15 8 25 8-7 7 76 9-39 7 31 8-3 8 38 8-6 8-4 8 3 8 5 7 13 8 6 8 16 8 23 7 12 8 11 8 16 8 12 8-8 7 38 8-7 8 3 8-6 8 6 8 15 8 14 7 16 9-5 7 10 8 24 8 2 8 6 8 6 7 20 8-7 8 19 7 25 8 7 8 20 8 15 7 5 8 10 8 12 7 26 8 13 8 21 7 6 8 15 8 9 7 18 8 11 8 10 8 7 7 14 8 1 8 14 8 4 8 3 8 8 7 4 8 2 8 8 8 2 8 6 8 1 8 7 8 4 8 6 8 5 8-3 8 4 7 9 8 5 8-1 8 3 8 5 8 7 8 0 8 6 8 3 8 1 8 5 10-13-8-2-8-3-8 0-8-7-7-3-9 1-7-8-8-5-8-5-8-3-8-5-8-6-8-1-8-1-8-7-8-3-7-3-8-8-8 0-8-15-8 3-8-9-8-8-7-10-8 1-8-10-8-7-8-12-8 2-7-9-8-13-8-19-7-12-8-21-7-22-8-2-8-28-7-13-8-16-7-22-8-13-8-18-7-24-8-18-8 7-8-18-7-22-8-2-8-14-7-22-8-9-8 2-8-30-8 16-7-37-8-16-8 8-8-14-8 6-8-20-7-28-8 9-8-12-8-28-8-2-7-32-8 11-9 20-7-43-8-4-7-33-9 16-8-11-8 3-7-33-8-9-8-27-7-8-8-23-8 7-8-53-8 46-8-21-7-55-9 23-8 11-8-11-7-16-8-15-8 13-9 41-7-24-9 35-7-40-9 50-7-60-9 56-8-10-7-44-8 19-8-18-8 25-8-5-8 7-8-27-8 17-8-12-8-27-8 47-8-46-7-11-8-20-8 37-8-24-8-57-8 30-8-59-8 20-8-8-7-37-8 2-8 13-8-5-8-34-8 6-8-45-8 14-8-41-8 0-7-8-8-25-8-2-8 1-8-46-8 1-8-47-8-1-8 15-8-8-8-38-8-21-8 52-8-20-8 17-7-19-8-10-8-24-8-6-8 30-8-29-8 14-8 53-8-21-8-9-8-60-8 71-8-35-7 42-8 2-8 10-8-87-8 51-8 56-8-62-8 15-7 5-8-24-8-22-8 58-8-4-8 22-8-58-8 6-7 22-8-9-8-20-8 64-8-37-7 19-8-25-8 40-8-30-7 67-8-24-8 20-8 7-7 19-8 28-7 5-7 67-9-54-8-5-7 66-7 18-8 25-7 10-8-6-7 25-8-12-8-6-7 44-8 6-8 5-7 44-8-22-7 35-7 15-8 27-7 1-8 12-7 17-7 21-8 0-7 39-8 0-7 9-8 14-7 12-7 36-7 1-8 5-7 38-8-3-7 15-7 4-7 29-8 5-7 15-7 8-8-9-7 20-8 13-7 10-7 8-8 17-7 6-7 6-8 10-7 12-7 2-7 17-8 3-7 9-8 2-7 10-7 9-8 2-7-4-7 9-8-7-7 7-8 2-7-1-8-2-7 4-8 0-7-1-7 1-8-3z" fill="url(#s10)"/>
<clipPath id="c10"><use href="#p10"/></clipPath><pattern id="k10" href="#sk" patternTransform="translate(526)"/>
<rect x="1400" y="550" width="2000" height="1900" fill="url(#k10)" clip-path="url(#c10)"/>
<path id="p9" d="M1366 2169l7 11 8 0 7 2 8-6 7 2 8-1 7 6 8-2 7-2 7-4 8-1 7 4 8-5 7-2 8-4 7-2 8 0 7-3 7-9 8-3 7-10 7-8 8-3 7-10 8-5 7-9 8 11 7-16 7-18 7-1 8-4 7-7 8-10 7-1 7-20 8 0 7-11 8-4 7-7 8-3 7-14 8-12 7-14 7-11 8-7 7-13 8-3 7-21 8-9 7-16 8 3 7-19 8 2 7 11 8-30 7-6 8 8 7-12 8-14 7-47 8 21 7-32 8 1 7-9 8-4 8 18 7-44 8 17 7-32 8-2 7-40 8 3 8-22 8 13 7 5 8-24 7-27 8 25 8 7 8 15 8-11 8-14 7-20 8-3 8 15 8-7 7-26 8-9 8 8 7-3 8 4 8-13 8 62 8-17 8-11 8 1 7-19 8 61 8-36 8 0 8 17 8-13 7-20 8 19 8 8 8-7 8 8 8-14 8 16 7-21 8 32 8-9 8 27 8-17 8-18 8 38 7-11 8-7 8 11 8-17 8 45 8-37 8 2 8 9 7 45 8 25 8 25 8-37 8 10 8 16 8 13 8 9 7 21 8 30 8 5 8-3 8 13 8 15 7-10 8 16 8-17 8 12 8 0 8 40 8 2 7 12 8-22 9-31 7 50 8 11 8-3 8 7 8-10 7 15 8 16 8 17 8-25 8-2 8 11 8 16 8 0 8 0 8-12 7 11 9-19 7 18 8 5 8-32 8 32 8 1 8-41 8 27 8-21 7 64 9-49 8 24 8 0 7 9 8 46 8-17 8-5 8-25 7 61 9-34 7 32 8-1 8 34 8-7 8 21 7 12 9-16 7 23 8 7 8 5 8 17 7 15 9-10 7 5 9-5 7 38 8-16 8 10 7 28 8-5 8 7 8 14 8 12 8-2 7 17 8 5 8 2 8 11 8 13 8 14 7 9 8 15 8 16 8-7 7 23 8 19 8 4 8 7 7 19 8 2 8 18 7 14 8 4 8 12 8 7 8 4 7 7 8 8 8 10 8 0 8 5 8 4 8 4 8 7 7 3 8 6 8 4 8 1 8 6 8 6 8 1 8 0 8 2 8 7 8 4 8 3 8 0 7 7 8 2 8 1 8 9 8-1 8 3 8 2 8 3 11-8-8-5-8-1-8-3-8-6-8 0-8-7-8-5-8-3-8 1-8-5-7-9-8-4-8 3-8-5-8-6-8-4-8-7-8-1-8-6-8-2-8-8-8-2-7-4-8-8-8-3-8-4-8-14-8-1-7-14-8-7-8-10-8-11-7-18-8-9-8-15-7-6-8-21-8-13-7-26-8-12-8-10-7-5-8-15-8-20-8-7-7-25-8-19-8 7-7-20-8-6-8-6-8-2-8-24-7-10-9 5-7-16-8-14-8-15-8-6-8 6-8-3-8 7-7-38-8 8-8-12-8-16-8-11-7-12-8-23-8-16-8-6-7-13-8-5-8-3-8 4-8 6-8-38-8 3-7-31-9 39-7-76-8 7-8-25-8 15-8 4-7-36-9 22-7-31-8 7-9 53-8-14-8-7-8 22-8-1-8-14-8 15-7-19-8-29-8 22-8 15-8-18-8-6-8-10-8-14-8 0-8-6-8 33-8-6-7-40-8 7-8-42-8 37-8-17-8-5-7-60-8 30-8-19-8-14-8-26-8 3-8 35-8-4-8-37-7-25-8 3-8-4-8-8-8-12-8-24-8 14-8 1-8-85-8 69-7-88-8 24-8-30-8 2-8 2-8 19-8-100-8 44-8 5-8 5-8-19-7 16-8-16-8-8-8-5-8 4-8 2-8-5-8 13-7 30-8 9-8-29-8-32-8 20-8-14-8 34-8-28-7 28-8-21-8 9-8 3-8-28-8-4-8 32-7-12-8 1-8-18-8-36-8 62-8 4-7 3-8 5-8 7-8-26-8 0-7 41-8-28-8 34-8-25-7 37-8 6-8-23-7 69-8-44-8 0-8-8-7 78-8-69-7 83-8 17-7-10-8 1-7 49-8-2-7 43-8-24-8 19-7 7-8 2-7 36-8-12-7 25-8-4-7 17-8-10-7 67-8-12-7 14-8-11-7 29-7 20-8-5-7 26-8 2-7 28-7 10-8 6-7 14-8-4-7 21-7 4-8 18-7 9-7 4-8 22-7 8-8 0-7 10-7-1-8 12-7 15-7 2-8 13-7 14-7 1-8 5-7 16-7 8-8 1-7 2-7 10-8 2-7 4-8 3-7 0-7 7-8 1-7-1-8 3-7 4-8-4-7-1-8-1-7-1-7 4-8-9z" fill="url(#s9)"/>
<clipPath id="c9"><use href="#p9"/></clipPath><pattern id="k9" href="#sk" patternTransform="translate(802)"/>
<rect x="1400" y="550" width="2000" height="1900" fill="url(#k9)" clip-path="url(#c9)"/>
<path id="p8" d="M1355 2181l7 6 8 0 7 0 8 3 7 0 8 4 7-4 8-2 7 4 8 1 7 2 7-5 8-1 7-2 8 0 7-2 8-4 7-5 8 0 7-2 7-5 8-10 7-1 8-2 7-5 8-1 7-13 7 8 8-16 7 2 8 1 7-10 8-4 7 1 7-18 8 0 7-5 8-4 7-14 8-2 7-8 8-3 7 7 8-16 7-13 8 4 7 5 8-8 7-37 8 19 7-20 8 6 7-17 8-15 7 15 8-13 8 1 7 2 8-15 7-8 8-20 7-3 8 7 8 7 7-30 8 2 7-11 8 8 7-19 8-30 7 3 8-10 8 10 8 5 7-10 8-5 8-9 7 8 8 1 8-25 8 19 7-24 8 16 8-9 7-3 8-6 8 5 8 21 7 2 8-17 8-26 8 37 8 6 7-48 8 62 8-17 8-3 7 2 8 7 8-26 8 13 7 4 8 20 8-27 8 11 8 0 7-11 8 8 8 11 8-11 8 18 8 5 7 10 8-30 8 23 8-10 8-10 7-9 8 34 8-2 8 3 8 22 8 1 8-33 7 43 8-13 8 23 8-7 8 10 8 19 7 30 8-25 8 19 8 4 8 4 7 24 8-3 8 6 8 23 8-2 8 2 7 27 8-28 8 3 8 15 8 2 8 24 8-13 7-1 8 4 8-2 8 22 8-22 8 26 8-10 7-1 8 27 8 4 8-18 8 23 8-4 8-15 7 26 8-4 8 3 8-1 8-27 8 14 8-9 8 26 7 10 8-12 9-23 8 6 7 35 8 0 8-17 8 8 8 2 8 8 7 26 8-8 8 9 8-6 8 24 7 18 9-20 8 7 7 11 8 10 8 13 8-12 8 20 8 2 8 0 7 15 8 17 8-12 8 20 7 9 9-4 8 0 7 11 8 0 8 25 8-13 8 3 8 13 7 11 8 1 8-1 8 18 8 7 7 13 9-3 7 8 8 10 8 6 8 17 7 8 8 11 8 12 8 2 8 8 7 7 8 11 8 11 8 2 8 11 7 3 8 5 8 1 8 12 8 1 8 4 8 3 8 4 8 4 8 3 7 9 8-3 8 8 8-5 8 7 8 5 8 2 8 2 8 0 8 4 8 4 8 2 8 1 8 3 8 7 8 3 8-2 8 3 8 5 8 0 10-10-8-3-8-2-8-3-8 1-8-9-8-1-8-2-7-7-8 0-8-3-8-4-8-7-8-2-8 0-8-1-8-6-8-6-8-1-8-4-8-6-7-3-8-7-8-4-8-4-8-5-8 0-8-10-8-8-7-7-8-4-8-7-8-12-8-4-7-14-8-18-8-2-7-19-8-7-8-4-8-19-7-23-8 7-8-16-8-15-7-9-8-14-8-13-8-11-8-2-8-5-7-17-8 2-8-12-8-14-8-7-8 5-7-28-8-10-8 16-7-38-9 5-7-5-9 10-7-15-8-17-8-5-8-7-7-23-9 16-7-12-8-21-8 7-8-34-8 1-7-32-9 34-7-61-8 25-8 5-8 17-8-46-7-9-8 0-8-24-9 49-7-64-8 21-8-27-8 41-8-1-8-32-8 32-8-5-7-18-9 19-7-11-8 12-8 0-8 0-8-16-8-11-8 2-8 25-8-17-8-16-7-15-8 10-8-7-8 3-8-11-7-50-9 31-8 22-7-12-8-2-8-40-8 0-8-12-8 17-8-16-7 10-8-15-8-13-8 3-8-5-8-30-7-21-8-9-8-13-8-16-8-10-8 37-8-25-8-25-7-45-8-9-8-2-8 37-8-45-8 17-8-11-8 7-7 11-8-38-8 18-8 17-8-27-8 9-8-32-7 21-8-16-8 14-8-8-8 7-8-8-8-19-7 20-8 13-8-17-8 0-8 36-8-61-7 19-8-1-8 11-8 17-8-62-8 13-8-4-7 3-8-8-8 9-7 26-8 7-8-15-8 3-7 20-8 14-8 11-8-15-8-7-8-25-7 27-8 24-7-5-8-13-8 22-8-3-7 40-8 2-7 32-8-17-7 44-8-18-8 4-7 9-8-1-7 32-8-21-7 47-8 14-7 12-8-8-7 6-8 30-7-11-8-2-7 19-8-3-7 16-8 9-7 21-8 3-7 13-8 7-7 11-7 14-8 12-7 14-8 3-7 7-8 4-7 11-8 0-7 20-7 1-8 10-7 7-8 4-7 1-7 18-7 16-8-11-7 9-8 5-7 10-8 3-7 8-7 10-8 3-7 9-7 3-8 0-7 2-8 4-7 2-8 5-7-4-8 1-7 4-7 2-8 2-7-6-8 1-7-2-8 6-7-2-8 0-7-11z" fill="url(#s8)"/>
<clipPath id="c8"><use href="#p8"/></clipPath><pattern id="k8" href="#sk" patternTransform="translate(388)"/>
<rect x="1400" y="550" width="2000" height="1900" fill="url(#k8)" clip-path="url(#c8)"/>
<path id="p7" d="M1344 2192l7-1 7 1 8 3 7-1 8 5 8 1 7 2 7-3 8-1 7 2 8 1 7 2 8-1 7 2 8-2 7 0 8-1 7 0 8-4 7-2 8-1 7-6 8 0 7 3 8 0 7-3 8-2 7-7 8 9 7-8 7-5 8-1 7-3 8-1 8 3 7-5 8 2 7-11 7-3 8-4 8 0 7 9 8-17 7 2 8 2 7-12 8-4 7 2 8-7 7-1 8-3 7 0 8-4 7-5 8-2 7-12 8 5 8 4 7-3 8-4 8-4 7-6 8 0 7 2 8-10 8-6 7 1 8-4 7 1 8 3 8-16 7 3 8-7 8 11 7-15 8 14 8-6 7-4 8-11 8 11 7-3 8-6 8 3 7-8 8 6 8 4 7-4 8-4 8 11 8 5 7-18 8 15 8-2 8-5 7-7 8 34 8-11 7-16 8 24 8-16 8 9 8 5 7-2 8 11 8-16 7-2 8 23 8-7 8-19 8 16 7 5 8-9 8 22 8-9 7 0 8 4 8-15 8 28 8-6 7 4 8-11 8 2 8 24 8 7 7-4 8 16 8 1 8-3 8 9 7-8 8 12 8 16 8 5 8 3 7-9 8 11 8-6 8 6 8 14 7 6 8-1 8 7 8 12 8-7 7 14 8-6 8 11 8-4 8-7 7 20 8-3 8-4 8 20 8-7 8 5 8-4 7 14 8-9 8 2 8-11 8 24 8-1 7-1 8 15 8-17 8-6 8 9 8 1 8 0 8 1 7 7 8-14 8 14 8 5 8-10 8 13 8 0 8 0 7 8 8 3 8 11 8 12 8-4 8-4 7 14 8 1 8 5 8 7 8 3 8 1 8 5 7 10 8-2 8 7 8 3 8-3 8 19 8-1 8 2 7 10 8-14 8 13 8 7 8 6 8-2 8 11 7 8 8-2 8 5 8 3 8 6 8 6 8 4 8 0 7 11 8 6 8 3 8 3 8 8 8 2 7 15 8 6 8 3 8 9 8 3 8 2 8 12 8-3 8 2 7 9 8 5 8-1 8 8 8-2 8 6 8 8 8-3 8 8 8-4 8 6 8 3 8 2 7 1 8 4 8-1 8 7 8 1 8 5 8-1 8 5 8 0 8 3 8-2 8 6 8 4 8-2 8 8 8-2 8 3 11-13-8 0-8-5-8-3-8 2-8-3-8-7-8-3-8-1-8-2-8-4-8-4-8 0-8-2-8-2-8-5-8-7-8 5-8-8-8 3-7-9-8-3-8-4-8-4-8-3-8-4-8-1-8-12-8-1-8-5-7-3-8-11-8-2-8-11-8-11-7-7-8-8-8-2-8-12-8-11-7-8-8-17-8-6-8-10-7-8-9 3-7-13-8-7-8-18-8 1-8-1-7-11-8-13-8-3-8 13-8-25-8 0-7-11-8 0-9 4-7-9-8-20-8 12-8-17-7-15-8 0-8-2-8-20-8 12-8-13-8-10-7-11-8-7-9 20-7-18-8-24-8 6-8-9-8 8-7-26-8-8-8-2-8-8-8 17-8 0-7-35-8-6-9 23-8 12-7-10-8-26-8 9-8-14-8 27-8 1-8-3-8 4-7-26-8 15-8 4-8-23-8 18-8-4-8-27-7 1-8 10-8-26-8 22-8-22-8 2-8-4-7 1-8 13-8-24-8-2-8-15-8-3-8 28-7-27-8-2-8 2-8-23-8-6-8 3-7-24-8-4-8-4-8-19-8 25-7-30-8-19-8-10-8 7-8-23-8 13-7-43-8 33-8-1-8-22-8-3-8 2-8-34-7 9-8 10-8 10-8-23-8 30-7-10-8-5-8-18-8 11-8-11-8-8-7 11-8 0-8-11-8 27-8-20-7-4-8-13-8 26-8-7-7-2-8 3-8 17-8-62-7 48-8-6-8-37-8 26-8 17-7-2-8-21-8-5-8 6-7 3-8 9-8-16-7 24-8-19-8 25-8-1-7-8-8 9-8 5-7 10-8-5-8-10-8 10-7-3-8 30-7 19-8-8-7 11-8-2-7 30-8-7-8-7-7 3-8 20-7 8-8 15-7-2-8-1-8 13-7-15-8 15-7 17-8-6-7 20-8-19-7 37-8 8-7-5-8-4-7 13-8 16-7-7-8 3-7 8-8 2-7 14-8 4-7 5-8 0-7 18-7-1-8 4-7 10-8-1-7-2-8 16-7-8-7 13-8 1-7 5-8 2-7 1-8 10-7 5-7 2-8 0-7 5-8 4-7 2-8 0-7 2-8 1-7 5-7-2-8-1-7-4-8 2-7 4-8-4-7 0-8-3-7 0-8 0-7-6z" fill="url(#s7)"/>
<clipPath id="c7"><use href="#p7"/></clipPath><pattern id="k7" href="#sk" patternTransform="translate(100)"/>
<rect x="1400" y="550" width="2000" height="1900" fill="url(#k7)" clip-path="url(#c7)" opacity="0.6"/>
<path id="p6" d="M1332 2197l8 3 7 1 8-2 7 5 8 2 7 0 8 3 7-1 8 2 7 1 8 4 7-3 8 6 7-9 8 7 7-1 8-5 7 1 8 4 7 1 8-5 7 1 8 1 7-7 8 6 7-7 8 10 7-6 8-5 7 1 8 2 7 1 8-6 7-1 8 7 8 0 7-8 7-2 8 0 8 3 7-4 8-4 7 3 8-5 7 2 8-2 7-4 8 1 8 2 7-8 8 2 7-6 8-3 7 6 8 2 8-5 7 3 8-7 7-3 8 2 7-5 8-3 8-2 7 8 8-5 8 2 7-14 8 8 7-4 8-2 8-3 7 4 8-3 8 1 7-9 8 2 7 5 8 2 8-8 8 8 7-9 8 7 7-3 8 16 8-24 8 5 7 3 8 7 8 1 7-18 8 21 8-10 7 1 8 8 8 3 8 8 7-5 8 10 8-16 8 8 7 9 8 8 8-10 8 3 7 4 8-10 8 8 7 2 8 13 8-11 8 3 7-2 8 1 8 6 8 0 7-6 8 9 8 6 8-2 8 3 7-4 8 8 8 11 8 0 7 3 8 1 8 19 8-12 8 5 7 12 8 1 8-2 8 6 8 4 7 10 8 2 8 5 8-12 7 19 8 1 8 1 8 1 8-7 7 15 8 1 8 4 8 2 8 2 8-4 7 10 8 7 8-12 8 18 8 4 7-6 8 4 8 3 8-3 8 0 8 9 7 5 8 0 8 0 8 3 8-4 8 5 7-5 8 6 8-6 8 10 8-8 8 0 8 11 7 5 8-7 8 8 8 3 8 3 8 5 8 1 8-3 7 10 8 1 8 11 8 1 8 0 8 10 8-13 7 6 8 13 8-1 8 2 8 7 8 6 7 5 8-2 8 4 8 2 8 7 8 1 8 5 8-2 8 7 7 4 8 4 8-3 8 2 8 4 8 10 8 6 8 0 8-5 8 7 7 8 8 4 8 1 8 9 8 11 8-1 8 2 7 6 8 4 8 3 8 6 8-2 8 11 8 3 8 6 8-3 8 4 7 8 8 1 8-1 8 2 8 5 8 5 8 3 8 3 8-1 8 3 8 5 8-3 8 11 8-5 8 5 8 2 8 2 8-3 7 9 9 1 8-3 8 6 8-1 8 1 7 6 9 0 8 0 7 5 8 2 11-9-8-3-8 2-8-8-8 2-8-4-8-6-8 2-8-3-8 0-8-5-8 1-8-5-8-1-8-7-8 1-8-4-7-1-8-2-8-3-8-6-8 4-8-8-8 3-8-8-8-6-8 2-8-8-8 1-8-5-7-9-8-2-8 3-8-12-8-2-8-3-8-9-8-3-8-6-7-15-8-2-8-8-8-3-8-3-8-6-7-11-8 0-8-4-8-6-8-6-8-3-8-5-8 2-7-8-8-11-8 2-8-6-8-7-8-13-8 14-7-10-8-2-8 1-8-19-8 3-8-3-8-7-8 2-7-10-8-5-8-1-8-3-8-7-8-5-8-1-7-14-8 4-8 4-8-12-8-11-8-3-7-8-8 0-8 0-8-13-8 10-8-5-8-14-8 14-7-7-8-1-8 0-8-1-8-9-8 6-8 17-8-15-7 1-8 1-8-24-8 11-8-2-8 9-7-14-8 4-8-5-8 7-8-20-8 4-8 3-7-20-8 7-8 4-8-11-8 6-7-14-8 7-8-12-8-7-8 1-7-6-8-14-8-6-8 6-8-11-7 9-8-3-8-5-8-16-8-12-7 8-8-9-8 3-8-1-8-16-7 4-8-7-8-24-8-2-8 11-7-4-8 6-8-28-8 15-8-4-7 0-8 9-8-22-8 9-7-5-8-16-8 19-8 7-8-23-7 2-8 16-8-11-7 2-8-5-8-9-8 16-8-24-7 16-8 11-8-34-7 7-8 5-8 2-8-15-7 18-8-5-8-11-8 4-7 4-8-4-8-6-7 8-8-3-8 6-7 3-8-11-8 11-7 4-8 6-8-14-7 15-8-11-8 7-7-3-8 16-8-3-7-1-8 4-7-1-8 6-8 10-7-2-8 0-7 6-8 4-8 4-7 3-8-4-8-5-7 12-8 2-7 5-8 4-7 0-8 3-7 1-8 7-7-2-8 4-7 12-8-2-7-2-8 17-7-9-8 0-8 4-7 3-7 11-8-2-7 5-8-3-8 1-7 3-8 1-7 5-7 8-8-9-7 7-8 2-7 3-8 0-7-3-8 0-7 6-8 1-7 2-8 4-7 0-8 1-7 0-8 2-7-2-8 1-7-2-8-1-7-2-8 1-7 3-7-2-8-1-8-5-7 1-8-3-7-1-7 1z" fill="url(#s6)"/>
<clipPath id="c6"><use href="#p6"/></clipPath><pattern id="k6" href="#sk" patternTransform="translate(332)"/>
<rect x="1400" y="550" width="2000" height="1900" fill="url(#k6)" clip-path="url(#c6)" opacity="0.23"/>
<path id="p5" d="M1321 2205l8 1 7 2 8 1 7 0 8 3 7 2 8 1 7 2 8 1 7 1 8-4 7 7 8 0 7 3 8-2 7 2 8 0 7 0 8 4 7-2 8 9 7-7 8 6 7-5 8 0 8 4 7 2 8-1 7-2 8 6 7-2 8-3 7 6 8-3 8 5 7-5 8 5 7 2 8-5 7-1 8 3 7-1 8 0 7 3 8-3 8 2 7-2 8 5 7-5 8 7 7-4 8-3 8 6 7-1 8 1 7-5 8 2 8 7 7-5 8 3 7-1 8 2 8 2 7-3 8 2 8 0 7-1 8-3 7 3 8 3 8-3 7 4 8 3 8-1 7-1 8-1 7-4 8 6 8 9 7-14 8 2 8 1 7 4 8 7 8 1 8 0 7 1 8 0 8 1 7 2 8 0 8-4 7 3 8 4 8 4 7 6 8-1 8 3 8-4 7 5 8-2 8-1 7-1 8 6 8 3 8 1 7 0 8 1 8 0 7 8 8-2 8 1 8 0 7 5 8 9 8-7 8 2 7 3 8 2 8 2 8 1 7 3 8 7 8-3 8 6 7 1 8 4 8-3 8 10 7-6 8 6 8 2 8 1 7 6 8 1 8 3 8-1 8 8 7-2 8 9 8-3 8 1 8 1 7 7 8 1 8 0 8 6 7 0 8 6 8 3 8-4 8 3 7 3 8 2 8 3 8 2 8-3 8 3 7 1 8 6 8-4 8 0 8 5 8 1 7 3 8 2 8 4 8-2 8 7 8-5 7 9 8-8 8 0 8 8 8 4 8-3 7 2 8 4 8-1 8 11 8-3 8-2 8 10 7 2 8-1 8 1 8 5 8 5 8 0 8 3 7 3 8 1 8 4 8 1 8 3 8 4 8-1 8 3 8 3 7-1 8 5 8 2 8 3 8 8 8-6 8 5 8-4 8 9 7 4 8-1 8 4 8 3 8 2 8-3 8 2 8 8 8 3 8 1 7 6 8 1 8 3 8-1 8 3 8 7 8 4 8 1 8 4 8 5 8-2 8 1 8 6 8 1 7 4 8 0 8 2 8 1 8 7 8 0 8 3 8 0 8 4 8-3 8 5 8 0 8-3 8 9 8 0 8 1 8 1 8 3 8 1 8 4 8-1 8 3 8 0 8 2 8 4 8 2 8 1 10-8-8-2-7-5-8 0-9 0-7-6-8-1-8 1-8-6-8 3-9-1-7-9-8 3-8-2-8-2-8-5-8 5-8-11-8 3-8-5-8-3-8 1-8-3-8-3-8-5-8-5-8-2-8 1-8-1-7-8-8-4-8 3-8-6-8-3-8-11-8 2-8-6-8-3-8-4-7-6-8-2-8 1-8-11-8-9-8-1-8-4-7-8-8-7-8 5-8 0-8-6-8-10-8-4-8-2-8 3-8-4-7-4-8-7-8 2-8-5-8-1-8-7-8-2-8-4-8 2-7-5-8-6-8-7-8-2-8 1-8-13-7-6-8 13-8-10-8 0-8-1-8-11-8-1-7-10-8 3-8-1-8-5-8-3-8-3-8-8-8 7-7-5-8-11-8 0-8 8-8-10-8 6-8-6-7 5-8-5-8 4-8-3-8 0-8 0-7-5-8-9-8 0-8 3-8-3-8-4-7 6-8-4-8-18-8 12-8-7-7-10-8 4-8-2-8-2-8-4-8-1-7-15-8 7-8-1-8-1-8-1-7-19-8 12-8-5-8-2-7-10-8-4-8-6-8 2-8-1-7-12-8-5-8 12-8-19-8-1-7-3-8 0-8-11-8-8-7 4-8-3-8 2-8-6-8-9-7 6-8 0-8-6-8-1-7 2-8-3-8 11-8-13-7-2-8-8-8 10-7-4-8-3-8 10-8-8-7-9-8-8-8 16-8-10-7 5-8-8-8-3-8-8-7-1-8 10-8-21-7 18-8-1-8-7-7-3-8-5-8 24-8-16-7 3-8-7-7 9-8-8-8 8-8-2-7-5-8-2-7 9-8-1-8 3-7-4-8 3-8 2-7 4-8-8-7 14-8-2-8 5-7-8-8 2-8 3-7 5-8-2-7 3-8 7-7-3-8 5-8-2-7-6-8 3-7 6-8-2-7 8-8-2-8-1-7 4-8 2-7-2-8 5-7-3-8 4-7 4-8-3-8 0-7 2-7 8-8 0-8-7-7 1-8 6-7-1-8-2-7-1-8 5-7 6-8-10-7 7-8-6-7 7-8-1-7-1-8 5-7-1-8-4-7-1-8 5-7 1-8-7-7 9-8-6-7 3-8-4-7-1-8-2-7 1-8-3-7 0-8-2-7-5-8 2-7-1-8-3z" fill="url(#s5)"/>
<clipPath id="c5"><use href="#p5"/></clipPath><pattern id="k5" href="#sk" patternTransform="translate(712)"/>
<rect x="1400" y="550" width="2000" height="1900" fill="url(#k5)" clip-path="url(#c5)" opacity="0.12"/>
<path id="p4" d="M1310 2211l8 1 7 0 8 4 7 1 8 2 7-3 8 6 7 0 8 1 7 3 8 2 7 1 8 1 7 1 8 3 7 2 8-1 7 4 8 1 7 2 8 2 8 1 7 2 8 1 7 2 8 0 7 0 8 4 7 2 8 1 7-1 8 3 8 2 7 2 8-1 7 2 8 3 7 0 8-3 8 9 7-1 8 3 7 1 8 2 7-2 8 3 8-4 7 7 8 4 7-1 8-2 8 6 7-3 8 6 7-1 8-1 8 6 7-2 8 1 7 2 8-2 8 8 7-3 8 4 8 0 7 2 8 1 7 0 8 4 8 3 7-6 8 6 8 0 7 6 8-3 8 1 7 4 8 2 8 1 7 3 8-4 8 7 7-3 8 6 7-4 8 8 8 0 8 1 7 0 8 2 8 1 7 8 8-5 8-3 7 11 8-3 8 4 7 1 8 0 8 1 7 6 8 0 8 0 8 5 7-2 8-2 8 6 7 0 8 3 8 1 8 1 7-5 8 10 8 4 7-3 8 0 8 6 8 4 7-1 8 2 8 2 8-3 7 9 8-2 8 3 8 0 7 2 8 5 8-3 8 3 7 0 8 4 8-1 8 6 7-7 8 11 8 2 8-4 7 2 8 4 8 1 8 4 8-5 7 6 8 2 8-1 8 5 7-1 8 4 8 0 8 2 8 2 7 4 8 0 8 2 8 2 8-2 7 6 8-1 8 2 8 1 8 2 8 0 7 5 8-2 8 2 8 5 8 2 7 5 8-3 8 1 8 2 8 7 8-8 8 5 7-1 8 3 8 3 8 3 8 3 8 0 7 3 8 1 8-1 8 4 8 0 8 6 8 1 7 2 8 2 8-3 8 4 8 4 8-1 8 0 8 6 8 3 7-1 8 2 8 5 8-1 8-2 8 4 8 1 8 4 8 0 8 2 7 3 8 0 8-3 8 10 8 1 8-6 8 10 8 1 8 0 8 3 8-1 8 5 7 1 8-1 8 5 8-2 8 5 8 1 8 2 8-2 8 2 8 5 8 1 8 2 8-1 8 2 8 4 8 2 8 0 8 3 8 2 8 0 8 2 8 2 8 1 7 3 9 0 7 3 8 2 8 2 8 1 8 2 8 2 8 1 8 2 8 1 8 2 8 2 8 1 8 2 8 2 8 1 11-7-8-1-8-2-8-4-8-2-8 0-8-3-8 1-8-4-8-1-8-3-8-1-8-1-8 0-8-9-8 3-8 0-8-5-8 3-8-4-8 0-8-3-8 0-8-7-8-1-8-2-8 0-7-4-8-1-8-6-8-1-8 2-8-5-8-4-8-1-8-4-8-7-8-3-8 1-8-3-8-1-7-6-8-1-8-3-8-8-8-2-8 3-8-2-8-3-8-4-8 1-7-4-8-9-8 4-8-5-8 6-8-8-8-3-8-2-8-5-7 1-8-3-8-3-8 1-8-4-8-3-8-1-8-4-8-1-7-3-8-3-8 0-8-5-8-5-8-1-8 1-7-2-8-10-8 2-8 3-8-11-8 1-8-4-7-2-8 3-8-4-8-8-8 0-8 8-7-9-8 5-8-7-8 2-8-4-8-2-7-3-8-1-8-5-8 0-8 4-8-6-7-1-8-3-8 3-8-2-8-3-8-2-7-3-8-3-8 4-8-3-8-6-7 0-8-6-8 0-8-1-7-7-8-1-8-1-8 3-8-9-7 2-8-8-8 1-8-3-8-1-7-6-8-1-8-2-8-6-7 6-8-10-8 3-8-4-7-1-8-6-8 3-8-7-7-3-8-1-8-2-8-2-7-3-8-2-8 7-8-9-7-5-8 0-8-1-8 2-7-8-8 0-8-1-7 0-8-1-8-3-8-6-7 1-8 1-8 2-7-5-8 4-8-3-8 1-7-6-8-4-8-4-7-3-8 4-8 0-7-2-8-1-8 0-7-1-8 0-8-1-8-7-7-4-8-1-8-2-7 14-8-9-8-6-7 4-8 1-7 1-8 1-8-3-7-4-8 3-8-3-7-3-8 3-7 1-8 0-8-2-7 3-8-2-8-2-7 1-8-3-7 5-8-7-8-2-7 5-8-1-7 1-8-6-8 3-7 4-8-7-7 5-8-5-7 2-8-2-8 3-7-3-8 0-7 1-8-3-7 1-8 5-7-2-8-5-7 5-8-5-8 3-7-6-8 3-7 2-8-6-7 2-8 1-7-2-8-4-8 0-7 5-8-6-7 7-8-9-7 2-8-4-7 0-8 0-7-2-8 2-7-3-8 0-7-7-8 4-7-1-8-1-7-2-8-1-7-2-8-3-7 0-8-1-7-2-8-1z" fill="url(#s4)"/>
<clipPath id="c4"><use href="#p4"/></clipPath><pattern id="k4" href="#sk" patternTransform="translate(701)"/>
<rect x="1400" y="550" width="2000" height="1900" fill="url(#k4)" clip-path="url(#c4)" opacity="0.12"/>
</g>
</g>
<text x="46.2" y="38.6" font-size="22" text-anchor="middle" font-family='"Liberation Sans",sans-serif'>(a)</text>
<rect x="34.4" y="338.4" width="389.2" height="321" fill="#5c38fd"/>
<g transform="scale(0.1)">
<path d="M1477 5176l0 0 0 0 6-5 6 2 4 3 2 2 2-2 4-5 6 3 6-1 7 3 0 0 6 0 0 0 6-1 2 1 4 3 6 2 5-5 1 0 1 0 5 2 6 0 6 6 6-2 6-5 7 8 6-5 6 1 6-1 6 4 6-5 6 5 6 0 6-3 6 2 6-4 7 0 6 6 6 0 6-2 6 4 6-2 6-2 6 0 6 0 6 1 6 1 7 0 6 1 6 3 6-3 6 3 6 0 6-7 6 8 6-6 6 3 6-1 7-2 6 6 6-4 6 0 6 2 6-1 6-2 6 1 6 4 6-3 6 1 7-2 6 3 6-5 6 9 6-6 6 1 6 1 6 0 6 0 6-3 6 6 7-2 6 2 6-3 6 1 6 0 6 1 6 0 6 1 6-2 6-1 6 2 7-4 6 4 6 3 6 2 6-6 6-4 6 4 6 0 6 0 6 1 6-1 7 0 6 1 6-6 6 7 6-1 6 2 6-1 6-6 6 6 6-5 6 5 7-4 6 3 6 1 6 0 6-1 6-4 6 4 6 3 6-9 6 5 6 2 7-5 6 4 6 0 6-2 6 1 6 0 6 3 6-1 6-2 6-4 6 8 7-1 6-1 6-4 6-2 6 4 6-2 6 3 6-3 6 5 6-4 6-3 6 1 7 1 6-2 6 5 6-4 6 0 6 0 6-3 6 2 6-5 6 5 6-1 7-3 6-3 6 6 6-7 6 4 3-6 3-3 3 3 3 6 5-6 1 0 1 0 5 6 5-6 1-1 3 1 3 3 4-3 3-1 2 1 4 2 3-2 3-1 6 0 6 0 6-1 6 0 6 0 6 0 5 2 1 1 1-1 5-5 7 2 6 1 6-2 6 4 6-2 6-2 6-3 6 2 6-1 6-1 6 6 7-6 6 2 6-3 6 3 6-2 6-1 6-1 6 0 6-2 6 1 6 3 7-8 6 9 6-4 6-3 6 0 6 0 6-1 6 1 6-4 6 0 6 2 7-3 6 4 6-3 6-1 6 3 6 1 6-2 6-4 6-3 6 5 6 0 7 0 6-1 6 0 6-8 0 0 0 0 6 7 6 2 6 0 6-1 6-4 6 5 6-6 7 3 6-1 6-1 6 1 6 0 6 2 6-2 6-2 6 2 6 2 6-2 7 2 6-2 6 0 6 6 6-1 6 0 6 0 6-1 6 6 6-2 6-3 7 3 6 0 6 0 6 4 6-1 6 1 6-5 6 3 6 0 6 2 6-2 7-2 6 2 6-2 6 0 6 2 6-3 6-1 6-1 6-4 6-3 6 4 7 1 6-3 6 0 6 0 5-5 1 0 6 0 2 0 4 1 1-1 5-3 5 3 1 3 6-1 6-1 2-1 5-1 6 0 6-2 6 1 6-1 6 0 6 0 6-4 6 1 6 1 6-3 7 4 6 2 6-3 6-1 6 3 6-2 6 1 6-2 6-4 6 0 6 0 7 1 6-3 6 7 6-7 6 3 6-2 6-3 6-2 6 0 6 2 6-5 7 3 6 0 6-6 6 1 6-1 6-3 4-1 2 0 6-2 5 2 1 0 6 3 6-1 2-2 5-4 6 1 6-3 6 0 6 0 6 0 6-5 6 0 6-1 6-3 6 1 7-4 6 2 6-2 6-7 6 1 6-1 6 0 6-2 0 0 6-1 6-2 6-6 7 1 6 0 6-5 6 2 6-3 6-5 6 3 6-8 6 5 6-2 4-6 2-4 7 2 6-11 6 0 6 2 6-8 6-2 6-2 6-1 3-3 3-9 6-4 6-10 2-3 4-27 1-2 3-25-3-13-7-3-6-7-1-3-5-8-6-19 0-1-6-7-4 8-2 4-1-4-5-27 0 0-1 0-5 2-6 1-3-3-3-9-6-10-3-8-4-4-6-6-6 8-6-11-6-2-6-6-6-2-3-4-3-3-6-5-6 1-6-4-7 0-6-2-6-1-6-8-6 2-6-4-6 1-6-3 0 0-6-9-6 2-6-3-7-2-6-1-6-3-6-7-3-4-3-2-2 2-4 6-6 1-3-7-3-7-6-1-6 1-6-8-7 7-6-6-6 0-6-7-6 0-6-3-4-3-2-2-6 0-6-1-6 0-6-4-7 1-6-4-6 3-6-7-6-5-6-3-6-3-6 4-6-2-6-3-6 1-2-1-5-4-6 1-3 3-3 1-2-1-4-4-6-5-6 1-6 0-6 6-6-7-6-1-6 3-7-1-6-1-6 3-6-8-6 2-6 5-6-3-6 6-5 4-1 0-1-1-5-6-6 5-7-6-6-1-5 9-1 0 0 0-6-10-6 6-6-6-6 9-6-11-6 9-6-2-6 1-7 2-6-3-5 5-1 0 0 0-6-7-6-2-6 0-6 0-6-1-6 6-6 1-6-2-7-5-6 5-6-6-6 4-6-4-6 1-6 4-4 6-2 1-1-2-5-7-6 5-6-6-6 9-1 0 0 0-6-4-2 4-4 3-6-2-6 2-4-3-2-2-1 2-5 9-6-8-6 6-6 2-6-7-7 5-6-2-6 4-6-2-6 0-6-5-6 5-6 2-6 1-6-5-6 2-7 0-6-1-6 0-6 0-6-1-6-4-6 3-6 4-6-2-5-6-1-3-2 3-4 8-7-2-6-3-6-3-6 3-4-3-2-3-6-2-4 5-2 1-6-1-6 0-6 3-4-3-2-3-3 3-4 4-6-3-5-1-1-1 0 1-6 2-2-2-4-5-6 3-4 2-2 0-1 0-5-6-5 6-1 1-6 0-2-1-4-4-7-1-6-1-6-3-6 3-6-4-6 4-6-4-6-2-6 0-6 2-6 2-7-8-6 0-6 0-6 6-6-7-6 1-6-4-6 6-6-6-6 2-6 1-7-4-6 0-6 1-6 3-6-2-6-4-6 1-6 0-6-1-6 2-6-1-7-1-6 1-5-5-1-1 0 1-6 7-6-5-6 0-5-2-1-1-6-2-3 3-3 3-3-3-3-4-6 0-7 0-6-2-5 6-1 0-1 0-5-4-6-1-6 0-6-2-6 1-6-3-6 0-6 0-7-7-6 7-6-5-6 5-6-1-6 1-6-4-6 3-6-4-6 2-6 3-6-4-7 1-6-2-6 2-6 1-6-2-6-1-6 6-6-1-6-1-6 0-6-3-7 1-6 1-6 2-6 3-6-10-6 7-6-6-6 3-6 2-6 2-6-5-7-1-6-2-6 2-6 6-6-3-6-1-6 5-6-3-6-2-6 0-6-2-7 1-6 5-6-1-6-5-6 7-6-3-6 0-6-1-6 2-6-4-6 2-7-4-6-1-6 5-6 8-6-9-6-1-6 3-6 0-6-4-6 8-6-2-7-4-6 1-6 1-6 0-6-1-6 8-6-9-6 4-6 2-6-5-6 3-7 0-6 0-6 2-6 3-6-7-6 3-6 4-6-7-6 1-6 3-6 0-7-1-6 3-6-2-6 2-6-4-6 5-6-2-6-4-6 3-6-1-6 2-7-1-6-1-6 3-6 3-6-6-6-1-6 3-6-2-6 3-6 0-6 2-7-1-6-4-6 3-6-1-6 3-2 2-4 2-2-2-4-6-6 1-6 2-6 2-6 0-1 1-6 5-6-3-6-2-6 1-1-1-5-5-4 5-2 2-6 0-6 4-6 1-6 0-6-2-7 3-6-4-6 5-6-1-6-2-6 3-6 0-6 4-6 4-6-5-6 2-7 5-6-3-6 2-6 7-6-3-6-3-5 8-1 1-6-1-6 0-6 1-3-1-3-3-2 3-5 10-6-7-6 8-6 1-6-1-6-1-6 11-6-5-6 9-6-1-3 2-3 1-7 4-6 1-6-1-6-4-6 8-6-3-6 6-6 3-6-6-6 12-6-2-3 8-4 6-4-6-2-4-4 4-2 2-6-1-2-1-4-2-1 2-5 12-6-2-6-2-6 18-6-1-6-7-6 9-1 0-1 0-5-1 0 1-6 10-6 3-6-1-6 4-3 10-3 6-6-1-6 0-6 18-6-11-7 8-1 7-5 12-6 13-1 2-5 8-5 19-1 2-6 3-3-5-3-5-1 5 1 9 2 18-2 5-6 3-6 14-2 4-4 13-4 14 4 17 2 10 4 10 6 7 3 9 3 3 6 0 6 13 6-1 6 9 6 0 6 2 3 1 4 3 6 6 6 5 6 7 6-1 5 7 1 0 6 6 6 1 6-1 6 0 6 4 7 0 6 7 6-2 6 3 6 2 6 1 6 3 6-2 6-1 6 5 1 1 5 5 7-1 6 0 6 6 6-1 6 1 6 1 6 4 6 0 6-3 6-1 6 8 7 1 6-2 6 1 4 7 2 3 5-3 1 0 6-3 3 3 3 5 2-5 4-5 6 5 1 0 5 9 6-4 7 3 6-2 6 2 6 4 6 1 6 4 6-2 6 2 6-3 6 5 6 5 7-2 6 0 6 0 6 2zM1050 5016l1 0 0 0 0-2z" fill="#149df1" fill-rule="evenodd"/>
<path d="M1609 5123l2 2 6 4 4-6 2-2 6-3 5 5 1 3 5-3 1-1 6 0 7 0 0 1 6 3 6 2 5-5 1-1 3 1 3 0 1 0 5-2 5 2 1 0 6 1 2-1 4-3 2 3 4 8 6 0 7-2 6-2 6 2 6 0 6 0 6-1 6 0 6 3 6 0 6 0 6 1 7 1 6-3 6 4 6-5 6 5 6-5 6 1 6 1 6 2 6 1 6-4 7 3 6 0 6-3 6 2 6 0 6 2 6-2 6 6 6-2 6-5 6 1 7-1 6 3 6-5 6 3 6 5 6-7 6 7 6 4 6-5 6-2 6 4 7-4 6-2 6 2 6-2 6 2 6 2 6-1 6 2 6-5 6 4 6 2 7-3 6 1 6 2 6-5 6 3 6-2 6 2 6-1 6 4 6-8 6 5 7-2 6 2 6-2 6 2 6-3 6 4 6-2 6-2 6 4 6-3 6 3 7 1 6 1 6-3 6 0 6 0 6-1 6-1 6 2 6-1 6 1 6-1 7-3 6 2 6 3 6-1 6-2 6 1 6 0 6-6 6 7 6-2 6-2 6 2 7-5 6 5 6-2 6 0 6 0 6-2 6 1 6-1 6-3 6 7 6-5 7 0 6-3 6 1 6 3 4-7 2-2 3 2 3 2 6 0 6 0 6 0 4-2 2-1 3 1 3 1 3-1 4-2 6-1 6-1 6-2 6 6 0 0 0 0 6-6 6 2 6-1 6-3 6 3 6-1 7 0 6-1 6-2 6 0 6 3 6-2 6-1 6-1 6-1 6 3 6 1 7-1 6-3 6 0 6 1 6-4 6 0 6 0 6 3 6-3 6-3 6 5 7-5 6 0 6 1 6-3 6 2 6-2 6 1 6 3 6-3 6-3 6-4 4-2 3-1 3 1 3 2 6 1 6 2 6-1 6-2 6 0 6 2 6-2 6 0 6 5 6-7 1 0 6 0 0 0 6 3 3-3 3-2 6-1 6 3 0 0 6 4 4-4 2-2 6-2 6 3 6-2 5 3 2 2 2-2 4-2 6 0 6-3 5 5 1 1 5-1 1 0 6-3 6-1 6 3 6 0 6-1 7-2 6 3 4 1 2 1 6-1 6 3 6-1 6 1 6-1 6 3 6-1 6 3 7-4 6 5 6 1 6 3 6 0 6-5 6 5 6-1 6 5 6-6 6-3 7 0 6 2 6-2 6-5 6 6 6-7 6 0 1-1 5-1 6-1 6 1 6-1 7 1 1 1 5 3 2-3 4-3 6 0 6-1 6 0 6-2 6 1 6 0 6 1 6-1 7-1 6-1 6-1 6 2 6-2 6-3 6 5 6-2 6-4 6 4 6-3 7 0 6 1 6-1 6-1 6 3 6-8 6 6 6-2 6 1 6-6 6 4 7-4 6 2 6 3 6-4 6-2 6 1 6-3 6 0 6 2 6-3 6 1 7 3 6-6 6-1 6 1 2-3 4-4 6-2 6 4 5 2 1 1 1-1 5-9 6 4 6 4 7-1 6-9 6 0 6-5 6-2 6 4 5-13 1-2 2 2 4 5 6-1 3-4 3-4 6 3 7-6 6 3 6-9 6-1 6-10 6 2 3-4 3-5 5-22 1-20 2-7-2-4-6-11-6 1-6 8-5-20-1-5-6-5-6-9-6 1-5-9-2-2-6-2-1 4-5 8-6-6-1-2-5-20-6-4-1-3-5-9-6 9 0 0 0 0-6-9-6-3-6-3-7-3-6-6-4-3-2-1-6 0-6-4-6-3-6-7-6 10-6-6-6-8-6-4-7 0-6 1-3-5-3-4-6-2-6 1-6-2-6-4-6 1-6-2-6-4-6 0-7-3-6 1-6-3-6-2-6 3-5-6-1-1 0 1-6 6-5-6-1-1-6-1-4 2-2 1-6 3-6-4-1-1-6-3-6 1-5 3-1 0 0 0-6-4-5 4-1 0-6 3-6 1-6-4-1 0-5-7-6 4-7-2-6 3-5 2-1 0-1 0-5-2-6-2-4 4-2 2-6-2-1 0-5-4-6-2-6 2-4 4-2 2-3-2-4-5-6 0-6-5-6 7-6-3-6 3-6-5-6-1-6-2-6 0-6 5-7 3-6-13-6 11-6-7-6 3-6 0-6 3-6 5-6-4-6-4-6 1-7 8 0 0-6 0-6 2-6 2-4-4-2-2-2 2-4 3-6 3-6 0-6-1-6 3-6 0-7 3-6-3-6 4-6-5-6 0-6 4-6 1-6-4-6 1-6-4-6 0-7 4-6-2-6 1-6-6-6 2-6 0-6 1-6 0-6 0-6 2-6-3-7 3-6-6-6 0-6 4-4-5-2-2-3 2-3 2-2-2-4-4-6 4-6-1-1 1-5 4-6-2-7-1-1-1-5-5-3 5-3 4-4-4-2-3-6-3-6-2-6 8-6-10-6-2-6 7-6-7-7-2-6-1-6 6-6 3-6-8-6 3-6-3-6 1-6 0-6-5-6 10-7-5-6-7-6 1-6 1-6-2-6-2-6 2-5-7-1-2-1 2-5 6-6-2-6 2-7-1-6 0-6-3-6 1-4-3-2-1-6-2-6-5-5 8-1 3-5-3-1-1-6-3-4 4-2 2-2-2-5-7-6 4-6-2-6-2-6 1-6-5-6 3-6-4-6 5-6-1-6-3-7 0-6-1-6 4-6-2-6-1-6-5-6 1-6-2-6 0-6-4-6 1-7 8-6-5-6-3-6-1-6 3-6-3-6 2-6 0-6 2-6-2-6 3-6-1-7-6-6 1-6 7-6-3-6-2-6 1-6-2-6-3-6 0-6-2-2-1-4-2-7 2 0 0-6 7-4-7-2-3-2 3-4 6-6 2-6 0-6-8-6 5-6-5 0 0-1 0-5 7-6 1-7 0-6-2-6-1-6 6-6-9-6 4-6-3-6 0-6 3-6-1-6 5-7-4-6-1-6 2-6-4-6 7-6-3-6-4-6 3-6 2-6-5-6 1-7 2-6-5-6 6-6-1-6 6-6-5-6-3-6 3-6-7 0 0-1 0-5 7-6 0-7 2-6-3-6 2-6 2-6-3-6 6-6-3-6-2-6 0-6 2-6 0-7-3-6-1-5-6-1 0 0 0-6 9-6-1-6 2-6-1-6 3-6 9-6-4-6 0-7-5-6 8-6-7-6-1-6 6-6-3-6-1-6 4-6-9-6-2-6 6-7 0-6 3-6 2-6-3-6-1-6 11-6-3-6-5-6 8-6-4-6 6-7-7-6 1-6-4-4 10-2 4-3-4-3-5-6 3-6-4-4 6-2 3-5-3-1-2-2 2-4 3-4-3-2-2-3 2-4 3-6 3-6 1-6-2-5-5-1-1-1 1-5 5-6 6-6-2-6 0-6-4-6 7-7 5-6-8-6 9-6-4-6 0-6 5-6 0-4 8-2 1-2-1-4-10-6 5-4 5-2 2-7 4-6-1-6 1-6-1-6 3-6 4-6 0-6 6-6 1-3 7-3 8-5-8-1-2-2 2-5 6-6-4-6 3-6 4-6-3-6 19-6-5-3 7-3 5-6-1-4-4-2-4-2 4-4 16-7-7-6 16-4 2-2 1-6 4-4-5-2-2-5 2-1 2-2-2-4-1-1 1-5 23-1 4-5 22-5-22-1-6-6 6 0 2-7 4-6 6-4 15-2 15-4 11-2 3-5 24 4 27 1 2 6 7 6 2 6 10 7-1 2 6 4 6 6-2 6 10 6-2 6 3 6 1 6 2 6 0 6 6 6-1 5 4 2 2 6 1 6 2 3-5 3-4 1 4 5 14 6-3 5-11 1-2 1 2 5 16 6 1 6-5 6 8 7 6 6-3 6-1 6 2 2 3 4 2 6-2 1 0 5-2 3 2 3 2 6 8 6-5 6-3 7 6 6 5 6-5 6 5 6 0 6 1 6 0 6-1 6 3 6 1 6 0 7 1 6-4 6 2 6 2 6-2 6 7 6-2 6 1 6-2 6 3 6-2 7 2 6 2 6-4 6 1zM1214 5016l1 1 1-1-1-3zM1200 4989l3 3 2-3-2-5zM1215 4962l0 1 0-1 0 0z" fill="#37e6d8" fill-rule="evenodd"/>
<path d="M1720 5096l1 0 0 0 6-7 6 6 6 0 2 1 4 1 2-1 4-2 6-1 6 0 4 3 2 2 6 2 6 0 5-4 2-1 2 1 4 3 3-3 3-3 6 3 6-1 2 1 4 4 6-3 6 0 6-1 6 2 6 1 5-3 2-1 0 1 6 5 4-5 2-1 3 1 3 2 6 0 6 3 6 2 6 0 6-5 6 0 6-1 7 4 6 0 5-5 1 0 0 0 6 6 6-6 6 5 6 0 6-3 6 5 6-2 6 1 7 0 6-3 6 1 6 1 6 0 6-4 6 2 6 0 6-1 6 5 6-2 7 2 6-3 6 0 6 2 6-1 6-1 6 0 6 2 6-1 6-2 6-1 7 1 6 3 6-2 6 3 6-2 5-5 1-1 0 1 6 9 6-4 6-4 6 2 6 2 7-3 6 2 6-4 6 7 6-7 0 0 0 0 6 8 6-4 6 3 6-3 6 2 6-4 7 3 6-4 6 0 6 1 6-1 6 4 6-5 0 0 0 0 6 4 6-3 6 3 6-1 6-2 1-1 6-2 4 2 2 1 4-1 2 0 6-3 6 2 6-2 6 3 6-1 6-3 6 2 6-3 7-1 6 5 6-4 6 1 6 0 6 0 6-2 6 3 6-7 6 2 6 0 7 3 6-5 6 3 6-4 6 1 6-2 6 5 6-6 6 3 6-9 6 5 7 2 6-3 6-1 6 1 6 0 6 0 6 0 6 1 6-4 6 1 6-1 7 1 6-3 6 5 6 0 6-2 6-3 6 2 6-5 6 0 6 1 6 3 7-6 6 2 6 3 6-3 6-1 6 2 6-1 6-1 6-2 6 4 6-4 3-1 4-3 6 0 6-1 6-2 6 3 6 1 6-3 6-2 6 0 6 2 6-1 7-1 6 6 6-8 6 0 6 4 6-3 6 1 6-4 6 0 6 0 6 2 7-3 6 2 6-1 6-2 6-1 6 2 6 0 6 1 6-2 6 2 6 3 7-5 6 3 6-3 6 6 6 2 6 2 6-4 5 7 1 1 1-1 5-4 6 4 0 1 6 1 7 0 6-1 6 3 6 2 6-4 4-2 2 0 1 0 5 5 6-3 6 5 6-4 6 2 5-5 2-2 6 0 6-1 6 0 6 1 6-1 6-2 6 2 6-3 6 0 6 2 7-6 6-1 6 1 6 0 6-2 6-1 6-2 6 4 6 1 6-8 6 3 7-7 6 1 6 2 6 2 6-6 6 2 6 2 6-1 6-2 6 2 5-6 1-3 3 2 4 3 6 4 6-6 6 5 3-6 3-5 6 3 2 2 4 4 2-4 4-6 6 3 6 1 6 0 4 2 3 2 1-2 5-9 6-8 6-1 6 7 6-3 6-11 6 16 6-10 6-3 4-4 2-4 2 4 5 10 6-7 5-3 1-2 6-8 4-17 2-25 0-2 0-1-6-7-6-11-6 19 0 1 0-1-6-26-1 0-6-15-6 15 0 0 0-1-5-26-1-3-5 3-1 0-6 1-6 4-6-2-4-3-2-2-6-7-6 3-6-16-2-5-5-3-6 2-2 1-4 2-1-2-5-4-6 1-6 2-1 1-5 8-6-7-2-1-4-2-6 1-6-13-7-1-6-1-6-1-6 4-6-10-6 14-6-12-6 15-6-10-6-2-6 5-6 13-1 1 0-1-6-20-6-1-6 10-6 4-6-20 0 0 0 0-6 13-6 5-6-12-6 7-6-10-7 1-6 4-6 1-6-9 0 0-6-13-6 9-2 4-4 9-3-9-3-8-5 8-1 2-1-2-5-9-6 2-7 5-6-7-6 1-6-2-6 6-6 0-6-2-6 3-6 2-6-2-6-8-6 11-1 3-6 1-6-1-6 12-6-10-6 9-6 5-6 0-6-8-6 10-6-7-5 13-2 4-5-4-1-1-6 0 0 1-6 9-6-3-6-3-1-3-5-11-5 11-1 2-6-1-2-1-4-4-6-5-5 9-2 3-6-2-6 0 0-1-6-12-5 12-1 4-2-4-4-12-6 5-6-8-6 0-6 12-6-15-7 7-6 9-6-14-6 0-6-2-6 8-6-9-6 3-6 2-6-2-6-5-7-2-3-4-3-1-3 1-3 1-6 9-6-4-6-2-2-4-4-8-6 1-6 1-6-1-6-4-7 7-6-3-6 2-6-9-6 3-6 1-6 3-6-10-6 3-6-2-6 0-7-4-6-2-6-4-6 10-6-7-6 4-5-8-1-1-2 1-4 4-6 0-2-4-4-4-6 2-4 2-3 3-2-3-4-4-5 4-1 1 0-1-6-4-3 4-3 6-2-6-4-6-4 6-2 3-2-3-4-5-4 5-2 4-2-4-4-10-6 2-7 6-6-5-6-6-6 4-5 9-1 1 0-1-6-10-6 0-6-1-6 1-6 0-6 3-7-5-6 3-6-8-6 2-6 0-6 0-6-2-6-6-6-2-6-1-6 8-7-8-6 6-6-1-6-4-3-1-3-1-1 1-5 4-5-4-1-1-1 1-5 3-6-2-6 0-6 7-6-4-3-4-4-4-4 4-2 2-4-2-2-1 0 1-6 6-6-5-6 2-4-3-2-2-3 2-3 1-6 2-6 1-4-4-2-3-7 1-6 0-5 2-1 0-1 0-5-4-5 4-1 0-1 0-5-2-1 2-5 5-6-2-5-3-1-1-6 0-1 1-5 2-4-2-3-2-3 2-3 1-6-1-6 8-4-8-2-6-5 6-1 2-6 2-6-3-6 3-6-1-6 1-7-2-6-2 0 0-6-4-6 4-6-1-1 1-5 5-6-3-6 2-6 0-6-2-6-2-1 0-6-3-6 2-2 1-4 1-6-1-6 0-6 2-6 1-6-3-1 0-5-2-6-1-6-5-6 8-1 1-6 1-4-2-2-1-1 1-5 4-6 3-5-7-1-1-1 1-5 7-6-3-6-1-6 5-6-8 0 0-1 0-6 3-6 0-6 1-6-2-6 7-6-3-6 2-6 5-6-7-6 3-6-1-7-3-6 2-6-6-6 7-6 4-6-8-6 6-6 5-6-1-6-1-6 1-7 3-6-5-6 8-6-5-6 4-6-4-6 4-6-7-6 9-6-4-6 6-7-3-5 6-1 2-1-2-5-7-6 5-6 2-6-2-3 2-3 3-4-3-2-1-2 1-4 6-6-6 0 0-1 0-5 9-6-9-1 0 0 0-6 19-6-8-6 9-6-4-6 7-6 3-6-6-6 7 0 0-6 13-6-11-7 0-6 9-6-3-6-6-6 13-5 12-1 4-1-4-5-19-6 16-4 3-2 2-6 3-6-2-5-3-2-1 0 1-5 27-1 1 0-1-6-16-6 3-6 11 0 2-6 11-4-11-2-9-6 3-2 6-4 13-5 14-1 7-6-3-2-4-5-8-4 8-2 5-4 21 4 13 5 14-4 27 5 12 5-12 2-21 1 21 5 13 4 13 2 3 6 3 6 1 6-6 6 8 6 1 6-7 6 2 6 7 7 5 6 1 6 0 6 4 6-1 6 3 6 3 6-3 4 3 2 2 3-2 3-2 6 0 2 2 5 10 6-5 6-2 6-1 6 2 6 2 6 2 6 4 6 1 6-1 6 3 7-2 6 7 6-7 6 3 6-4 6 3 6 2 6 4 6-2 6 1 6-1 7-2 6 2 6 3 6 1 6-1 6-1 6 4 6-4 6-1 6 3 6 0zM1352 4989l3 13 6 10 5-23-5-8-6-3zM3456 4989l0 1 1-1-1-1z" fill="#80ffb4" fill-rule="evenodd"/>
<path d="M1728 5069l5 4 2-4 4-6 6 2 5 4 1 1 3-1 3-1 2 1 4 1 6 4 5-5 1-1 2 1 4 4 7-3 2-1 4-2 6-1 4 3 2 1 6 1 6 1 6 1 6-2 6 3 6-5 0 0 0 0 6 4 7-2 6 6 6-4 6 1 6-4 6 7 6 0 6-1 6-1 6 2 6-4 7 4 6-5 6 5 6 0 6-2 6 5 6-6 6 4 6-1 6-2 6-2 7 2 6 2 6 0 6 1 6-1 6-1 6 0 6 1 6-4 6 4 6-3 7-1 6 2 6 3 6 0 6-2 6-4 6 7 6-3 6 1 6 0 6 0 7-1 6 5 6-7 6 2 6 0 6 1 5-8 1-1 2 1 4 5 6 1 6 4 6-4 7 4 6-2 6-2 6 2 6-4 6-3 6 0 6 9 6-2 6-4 6 4 7-1 6 3 6-9 6 6 6-5 6 3 6 4 6-1 6-2 6 2 6-8 0 0 0 0 6 8 7-4 6 2 6 2 6-4 6 0 6-1 6 0 4-3 2-1 6-2 6-1 6 3 7-3 6-3 6 3 6-1 6-1 6-1 6 0 6 4 6-6 6-2 6 2 7-1 6 0 6 6 6-6 6 0 6 0 6 9 6-14 6 7 6-11 6 4 7 2 6-3 6 2 6-5 6-6 6 9 6 0 6-8 6 2 6 3 6-3 7 5 6-5 6 5 6-7 1-3 5-8 6 8 0 1 6 4 6-5 0 0 2 0 4 2 4-2 2-1 6-9 6 10 1 1 5-1 1 0 6-14 6 5 6 4 6-7 6-2 6 1 6 2 6-2 6-7 7 6 6-1 6-3 6 2 6-9 6 13 6-5 6 5 6-11 6 0 6 7 6-10 1-3 5 3 1 0 1 0 5-1 1 1 5 3 3-3 3-8 6-11 4 19 2 2 1-2 5-22 4-5 2-7 1 7 5 19 6-9 7-8 2-2-2-3-7-21 0-3-6-14-6 3-6 1-6-2-6 9-2 3-4 7-4-7-2-5-3 5-3 4-5-4-1-2-6-17-7 11-6-12-6-4-2-2-4-5-1 5-5 13-4-13-2-6-6 2-6 0-3 4-3 8-6-8 0-1-6-6-3 7-4 6-2-6-4-14-6 2-4 11-2 9-1-8-5-14-6-11-6 1-6-3 0 0 0 0-6 10-6-6-6-1-7 11-6-5-3-9-3-4-1 4-5 8-6-6-6-2-6 6-6-2-5-4-1-2-6-3-6 1-6-23-1 0 0 0-6 9-6 3-5-12-1-1 0 1-6 17-6-9-6-3-6 17-6-10-4-12-2-5-3 5-3 8-7-1-6 2-6-4-6 1-6-4-1-2-5-7-6-1-6 3-6-2-6 3-6-7-7 8-6-9-6-4-6 5-6-5-6 5-6-3-6-2-6 0-5-11-1-3-3 3-3 5-7 5-4-10-2-3-2 3-4 5-6-5 0 0 0 0-6 7-2-7-4-8-6 6-6-8-6-1-6 5-6-8-7 5-6 4-6-6-6 5-6-3-6-5-6 7-6-10-6 7-6-5-6 5-6-2-7-1-6 12-6-16-6 3-6-2-6 10-6-6-6-3-6-3-6 6-6 9-7-9-6-5-6 4-6 1-6-1-6 3-6-3-6-2-6-5-6 7-6-7-7 8-6-12-6 10-6-1-6 5-6 1-6-2-6 1-6-8-6 3-6-3-7 7-6 0-6-2-6 8-6-8-6 2-6 7-6-6-6 0-6-13-6 17-7-9-6 7-6 0-6-8-6-1-6-2-6 18-6-10-6-4-6 2-6-6-7 0-6 5-6 3-6 5-6-7-6 0-6 9-6-13-6 7-6-2-6 2-7-2-6 1-6 6-6 1-6-3-6 6-6-4-6-1-6 5-6 1-6-2-7 0-1 2-5 4-4-4-2-1-2 1-4 3-2-3-4-3-3 3-3 6-3-6-3-7-6 6-2 1-4 8-6-3-6 9-7 1-6-10-6 13-6-6-6 11-6-11-6 5-6 4-6-2-6 0-6 0-4 8-3 5-2-5-4-8-4 8-2 3-6 1-6 0-6 17-4-21-2-5-2 5-4 16-6 0-6 9-6-6-3 8-4 5-5-5-1-1-1 1-5 4-5-4-1-1-6-2-3 3-3 8-6 7-6 1-6-8-6 10-6 0-7 7 0 2-6 10-5-10-1-4-1 4-5 10-6 5-6 11 0 7-1 20 1 5 5 22 1 7 6 0 3-7 3-16 3 16 3 10 6 4 7-2 6 8 3 6 3 3 6 0 2-3 4-6 6 2 5 4 1 1 1-1 5-7 4 7 2 5 6 6 6-1 7-2 6 4 6-2 6-2 6 1 6 2 6 4 6 2 6 3 6-5 6 4 7-3 6 0 6 5 6 1 6-1 6 1 6-8 6 7 6 5 6-1 6-2 7 1 6 1zM1501 4967l0-5 0-8 1 8zM1520 4963l-1-1 1-3 0 3zM3005 5042l1 1 0-1 6-5 6-1 6 6 6-4 6 4 6-7 6 6 3 1 3 1 6 1 1-2 6-19 6 8 6 7 6-16 6 12 6-10 6-3 5-5 1-4 6 0 2 4 4 2 4-2 2-3 2 3 5 6 6 0 2-6 4-21 6 4 6-1 5-9 1-3 0 3 0 3-2 24 2 3 4-3 2-8 5 8 1 0 0 0 0-12 0-15-1-27-5-19-6 8-6-3-6 11-6-14-3-9-3-5-6 5 0 5-2-5-5-3-6-2-6-7-6-2-6 9-6-1-3 6-3 5-1-5-5-25-6 20-5-22-1-4-2 4-4 11-7-4-6 5-6-2-6-1-6-2-4-7-2-3-2 3-4 14-6 0-6-2-6 1-6 9-7-10-6 5-6 2-4 8-2 2-6 4-6-1-6 20-6-9-6 4-6-1-6-19 0-2-1 2-6 25 0 1-6 27 6 27 0 0 1 0 6-17 3 17 3 9 5-9 1-17 6 16 0 1 6 5 6 1 6-4 6 4 6 5 6 0 6 9 7-1zM1471 5016l0 0 1 0-1-4zM2873 5016l5 2 2-2 4-17 2-10 4-7 2 7 4 11 3-11-3-25 0-2-6-12-5 12-1 15-2-15-4-15-4 15-1 27zM1450 4989l3 4 4-4-4-5zM1462 4989l3 4 2-4-2-3zM2907 4989l1 8 6 15 6-23-3-27-3-7-6 0-3 7zM3177 4989l5 6 6 2 3-8-3-15-3-12-3-6-4 6zM3211 4989l2 7 4-7-4-8zM2865 4936l1 2 0-2 0-1zM3199 4936l2 19 0-19 0-2z" fill="#c8e688" fill-rule="evenodd"/>
<path d="M1769 5042l0 1 6 3 6-1 7 4 5-7 1-1 6-3 6 0 4 4 2 3 6-2 6 7 6-2 6 0 6 1 6-1 7 4 6-3 6 0 6-2 6 3 6 5 6-5 6 3 6 1 6-3 6 3 7 0 6-1 6 4 6-5 6 0 6 3 6-1 6 4 6-1 6-12 6 6 7-1 6 6 6-3 6-1 6 5 6-2 6-9 6 8 6-1 6-2 6-4 7 4 6 1 6-2 6 4 6 0 6-5 6 8 6-4 6 1 6-5 6 6 7 0 6 4 6-8 6-4 6 9 6-1 6-4 6 2 6-6 6 1 6 4 7 5 6 0 6-5 6-1 6 1 6-2 6 0 6 3 6 0 6 1 6 2 7-3 6 3 6-4 6 0 6-1 6 1 6 3 6-3 6-1 6-1 6-3 6 6 7-5 6-1 4-5 2-1 1 1 5 9 6-6 6 3 6 1 6 0 5-7 1-1 4 1 2 1 2-1 4-2 2 2 5 4 2-4 4-7 6 7 6-8 6 3 6 4 6-4 6-8 6 5 6-7 6-3 7-1 6 5 6-1 6 4 6-3 6-4 6 3 6-5 6 1 6-5 6-1 7 4 5-5 1-17 3 17 3 1 2-1 4-17 3 17 3 0 3 0-1-27 2-27-3-26-1-5-2 5-1 26-3 24-6-13-3-11-3-16-5-10-1-3-3 3-4 5-4-5-2-2 0 2-6 19-4-19-2-5-2 5-4 10-4-10-2-8-5 7-1 2-6 0-1-1-5-19-6 1-6 9-7-5-6 8-6-5-6-7-6 7-6-12-6 9-6-6-4-7-2-4-5 4-1 4-1-4-5-5-7 1-6 1-6-1-6-2-4 6-2 1-2-1-4-5-6-6-5 11-1 1-1-1-5-11-6-1-6-15 0-2-7 1-1 1-5 5-6 8-6-2-6-11 0 0 0 0-6 12-6 2-6-5-6-9 0-1-1 1-5 10-6-6-6 7-7 2-6 0-5-13-1-4-2 4-4 7-6 5-6-5-6 9-6-12-6 13-6-13-6 4-7 5-6-10-6 9-6-9-6 7-6-3-5-7-1-1-1 1-5 4-6 6-6-2-5-8-1-5-2 5-5 10-6-7-6 7-5-10-1-4-1 4-5 9-6 2-6 0-6 1-6 15 0 1-1-1-5-25-6 6-7 0-6 0-6 4-6-3-5-9-1-2-1 2-5 9-6 7-6 1-5-17-1-4-2 4-4 10-6-1-7 6-6-15 0 0 0 0-6 6-6 1-6 3-6-3-6 6-6-3-6-2-6-3-3-5-3-5-3 5-4 11-5-11-1-1 0 1-6 17-6-3-6-8-6 2-6 2-6 16-6-16-6 5-6-6-7 1-6 7-6-17 0 0 0 0-6 18-6-5-6 14 0 0 0 0-6-10-6-1-6 5-6 0-6-7-5 13-2 9-6-1-6-2-6-5-1-1-5-3-2 3-4 4-6 0-6 4-6 8-6-9-5-7-1-1-1 1-6 17-6-1-6-9-6 5-6 11-6-10-5 14-1 7-6 4-6-3-6 5-6 1-5-14-2-3 0 3-6 21-3 5-2 27-1 11-2-11-4-15-6-1-4-11-2-9-4 9 2 27 2 6 6 12 6 5 1 4 5 7 6-2 6-2 7 3 6 5 6-1 5-10 1-1 0 1 6 20 6-6 6-4 6 9 6 3 6 1 6 2 7-4 6 2 6 0 6-6 6 8 6-4 6 0 6 4zM2323 4914l-2-5 2-24 3 24zM1647 4998l0-9 0-3 1 3zM1604 5016l1 1 1-1 2-27-3-17-4 17zM2565 4989l2 20 3-20 3-13 5 13 1 4 1-4 2-27-3-6-6-8-5 14-1 6zM2592 4989l6 20 3-20-3-17zM2616 4989l0 0 6 1 0-1 0-1-6 1zM2633 4989l1 1 0-1 1-27-1-1-1 1z" fill="#ff9d53" fill-rule="evenodd"/>
<path d="M1805 5016l1 0 1 0 5-6 4 6 2 1 4-1 2-2 6-3 6-16 3 21 3 10 6-7 7 2 6 1 6-5 6 3 6 0 6 8 6-12 0-6 1 6 5 4 2-4 4-8 2 8 4 11 6-11 0-5 6 5 1 0 6 13 6-5 6-8 6 8 6-4 6 1 6 9 6 2 6-14 6 6 7 2 6-5 6 0 6 1 6 6 6-9 6 2 6 6 6 0 5-11 1-3 2 3 4 5 7 0 6 3 6-3 6 5 6 6 6-9 6 3 6 1 6 0 6-3 6 6 7-4 6-5 6-1 6 3 6 9 6-8 6 3 6-1 6 0 6-4 6 5 7 0 6 6 6-4 6-9 6 4 6-6 6 8 6 0 6-2 6 0 6-2 2-6 5-9 2 9 4 10 6-1 6-5 3-4 3-6 2 6 4 8 6 0 6 4 6-2 6-2 6-4 6-4 0-2 1 2 6 9 3-9 3-12 6 5 6 6 0 1 6 6 6-3 2-3 4-11 6-9 6 8 2-15-2-27 0-2-1 2-5 9-1-9-5-17-4 17-1 27-1 9-3-9-2-27-1-5-6-4-5 9-1 3-6 5-5-8-1-7-7-8-6 4-6-1-6-14 0-1-6-3-6-2-5 5-1 2-6 9-5-10-1-2-6-2-6 3 0 1-6 17-7-9-5-8-1-3 0 3-6 17-6-12-6 21 0 1 0-1 0-26-6-10-4 10-2 5-4-5-2-3-6 1-6-7-3 9-3 6-4-6-3-4-1 4-5 19-6-15-6-4-6 10-6-7-6-3 0-1-6-13-6 12-2 2-4 7-6 5-5-12-2-7-6 5 0 2-6 6-6-5-1-1-5-4 0 4-6 14-6-10-6 2-6-6 0 0-6-11-6 11 0 1-7 3-5-4-1-1-6-1 0 2-6 19-6-2-4-17-2-5-3 5-3 10-6-8-1-2-5-12-6 5-4 7-2 6-7-4-4-2-2-1-6-6-5 7-1 1-1-1-5-4-3 3-3 3-6 13-6 11 0 0 0 0-6-20-6 6-5-12-1-2-2 2-5 20-6-9-6-11 0-1 0 1-6 9-6 0-6-4-3-5-3-4-4 4-2 2-6 12-6 1-6 2-7-5-6 3-6-3-6 0-5 14-1 2-6 2-6-2-1-2-5-17-4 17 4 18 1 9-1 21zM2202 4964l-1-2 1-13 0 13zM2408 5016l1 0 0 0 0-1zM1702 4989l0 1 0-1 0-1zM1727 4989l0 1 0-1 0 0zM1747 4989l4 15 3-15-3-10zM1760 4989l3 26 6-10 6 0 6-16 1 0-1-1-3-26-3-5-5 5-1 1-1-1-5-3-6-4-2 7 2 12zM1789 4989l5 20 4-20-1-27-3-17-4 17zM2388 4989l2 12 7 0 6 1 2-13-2-5-6-14-7 10zM2412 4989l3 8 2-8-2-5zM1744 4962l1 8 1-8-1-3z" fill="#ff381c" fill-rule="evenodd"/>
</g>
<g stroke="#000" stroke-width="0.62" fill="none">
<rect x="34.4" y="338.4" width="389.2" height="321"/>
<line x1="76.61" y1="659.4" x2="76.61" y2="662"/>
<line x1="119.85" y1="659.4" x2="119.85" y2="662"/>
<line x1="163.1" y1="659.4" x2="163.1" y2="662"/>
<line x1="206.34" y1="659.4" x2="206.34" y2="662"/>
<line x1="249.58" y1="659.4" x2="249.58" y2="662"/>
<line x1="292.83" y1="659.4" x2="292.83" y2="662"/>
<line x1="336.07" y1="659.4" x2="336.07" y2="662"/>
<line x1="379.32" y1="659.4" x2="379.32" y2="662"/>
<line x1="422.56" y1="659.4" x2="422.56" y2="662"/>
<line x1="34.4" y1="659.4" x2="31.8" y2="659.4"/>
<line x1="34.4" y1="605.9" x2="31.8" y2="605.9"/>
<line x1="34.4" y1="552.4" x2="31.8" y2="552.4"/>
<line x1="34.4" y1="498.9" x2="31.8" y2="498.9"/>
<line x1="34.4" y1="445.4" x2="31.8" y2="445.4"/>
<line x1="34.4" y1="391.9" x2="31.8" y2="391.9"/>
<line x1="34.4" y1="338.4" x2="31.8" y2="338.4"/>
<rect x="447.8" y="613.54" width="15.8" height="46.06" fill="#5c38fd" stroke="none"/>
<rect x="447.8" y="567.69" width="15.8" height="46.06" fill="#149df1" stroke="none"/>
<rect x="447.8" y="521.83" width="15.8" height="46.06" fill="#37e6d8" stroke="none"/>
<rect x="447.8" y="475.97" width="15.8" height="46.06" fill="#80ffb4" stroke="none"/>
<rect x="447.8" y="430.11" width="15.8" height="46.06" fill="#c8e688" stroke="none"/>
<rect x="447.8" y="384.26" width="15.8" height="46.06" fill="#ff9d53" stroke="none"/>
<rect x="447.8" y="338.4" width="15.8" height="46.06" fill="#ff381c" stroke="none"/>
<rect x="447.8" y="338.4" width="15.8" height="321"/>
<line x1="463.6" y1="659.4" x2="466.2" y2="659.4"/>
<line x1="463.6" y1="613.54" x2="466.2" y2="613.54"/>
<line x1="463.6" y1="567.69" x2="466.2" y2="567.69"/>
<line x1="463.6" y1="521.83" x2="466.2" y2="521.83"/>
<line x1="463.6" y1="475.97" x2="466.2" y2="475.97"/>
<line x1="463.6" y1="430.11" x2="466.2" y2="430.11"/>
<line x1="463.6" y1="384.26" x2="466.2" y2="384.26"/>
<line x1="463.6" y1="338.4" x2="466.2" y2="338.4"/>
</g>
<g text-anchor="middle" fill="#000">
<text x="76.6" y="671.6" font-size="8.7">400</text>
<text x="119.9" y="671.6" font-size="8.7">450</text>
<text x="163.1" y="671.6" font-size="8.7">500</text>
<text x="206.3" y="671.6" font-size="8.7">550</text>
<text x="249.6" y="671.6" font-size="8.7">600</text>
<text x="292.8" y="671.6" font-size="8.7">650</text>
<text x="336.1" y="671.6" font-size="8.7">700</text>
<text x="379.3" y="671.6" font-size="8.7">750</text>
<text x="422.6" y="671.6" font-size="8.7">800</text>
<text x="29.4" y="663" font-size="8.7" text-anchor="end">100</text>
<text x="29.4" y="609.5" font-size="8.7" text-anchor="end">120</text>
<text x="29.4" y="556" font-size="8.7" text-anchor="end">140</text>
<text x="29.4" y="502.5" font-size="8.7" text-anchor="end">160</text>
<text x="29.4" y="449" font-size="8.7" text-anchor="end">180</text>
<text x="29.4" y="395.5" font-size="8.7" text-anchor="end">200</text>
<text x="29.4" y="342" font-size="8.7" text-anchor="end">220</text>
<text x="468.5" y="663.2" font-size="8.7" text-anchor="start">0</text>
<text x="468.5" y="617.3" font-size="8.7" text-anchor="start">2500</text>
<text x="468.5" y="571.5" font-size="8.7" text-anchor="start">5000</text>
<text x="468.5" y="525.6" font-size="8.7" text-anchor="start">7500</text>
<text x="468.5" y="479.7" font-size="8.7" text-anchor="start">10000</text>
<text x="468.5" y="433.9" font-size="8.7" text-anchor="start">12500</text>
<text x="468.5" y="388" font-size="8.7" text-anchor="start">15000</text>
<text x="468.5" y="342.2" font-size="8.7" text-anchor="start">17500</text>
<text x="229" y="683.1" font-size="8.85">Wavelength (nm)</text>
<text transform="translate(5.3 498.9) rotate(-90)" y="3.2" font-size="8.85">Gate Delay (ns)</text>
<text x="76.1" y="373.8" font-size="23.5" text-anchor="middle" fill="#fff" font-family='"Liberation Sans",sans-serif'>(b)</text>
</g>
</svg>
</body></html>
